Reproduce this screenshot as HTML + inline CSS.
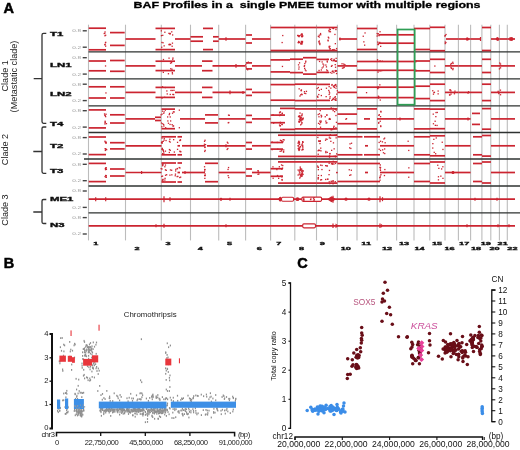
<!DOCTYPE html><html><head><meta charset="utf-8"><style>html,body{margin:0;padding:0;background:#fff;width:520px;height:450px;overflow:hidden}svg{display:block}</style></head><body><svg width="520" height="450" viewBox="0 0 520 450">
<rect width="520" height="450" fill="#fff"/>
<g stroke="#bcbcbc" stroke-width="1.1"><line x1="88.5" y1="24.7" x2="88.5" y2="240.4"/><line x1="125.5" y1="24.7" x2="125.5" y2="240.4"/><line x1="161.3" y1="24.7" x2="161.3" y2="240.4"/><line x1="190.5" y1="24.7" x2="190.5" y2="240.4"/><line x1="218.7" y1="24.7" x2="218.7" y2="240.4"/><line x1="245.6" y1="24.7" x2="245.6" y2="240.4"/><line x1="270.6" y1="24.7" x2="270.6" y2="240.4"/><line x1="294.8" y1="24.7" x2="294.8" y2="240.4"/><line x1="316.5" y1="24.7" x2="316.5" y2="240.4"/><line x1="337.4" y1="24.7" x2="337.4" y2="240.4"/><line x1="357.0" y1="24.7" x2="357.0" y2="240.4"/><line x1="377.2" y1="24.7" x2="377.2" y2="240.4"/><line x1="396.6" y1="24.7" x2="396.6" y2="240.4"/><line x1="414.0" y1="24.7" x2="414.0" y2="240.4"/><line x1="429.8" y1="24.7" x2="429.8" y2="240.4"/><line x1="445.0" y1="24.7" x2="445.0" y2="240.4"/><line x1="458.4" y1="24.7" x2="458.4" y2="240.4"/><line x1="470.6" y1="24.7" x2="470.6" y2="240.4"/><line x1="481.9" y1="24.7" x2="481.9" y2="240.4"/><line x1="490.8" y1="24.7" x2="490.8" y2="240.4"/><line x1="499.4" y1="24.7" x2="499.4" y2="240.4"/><line x1="507.3" y1="24.7" x2="507.3" y2="240.4"/></g>
<g stroke="#2e3231" stroke-width="1.35"><line x1="88.5" y1="51.9" x2="520" y2="51.9"/><line x1="88.5" y1="78.9" x2="520" y2="78.9"/><line x1="88.5" y1="105.9" x2="520" y2="105.9"/><line x1="88.5" y1="132.5" x2="520" y2="132.5"/><line x1="84" y1="159.0" x2="520" y2="159.0"/><line x1="88.5" y1="186.0" x2="520" y2="186.0"/><line x1="88.5" y1="212.9" x2="520" y2="212.9"/></g>
<g stroke="#cb2430" stroke-width="1.7" fill="none"><line x1="88.7" y1="28.2" x2="106.0" y2="28.2"/><line x1="88.7" y1="49.8" x2="106.0" y2="49.8"/><line x1="110.0" y1="32.6" x2="124.7" y2="32.6"/><line x1="110.0" y1="45.4" x2="124.7" y2="45.4"/><line x1="125.5" y1="39.0" x2="155.5" y2="39.0"/><line x1="155.5" y1="28.4" x2="175.0" y2="28.4"/><line x1="155.5" y1="49.6" x2="175.0" y2="49.6"/><line x1="175.0" y1="39.0" x2="190.5" y2="39.0"/><line x1="190.5" y1="36.8" x2="203.0" y2="36.8"/><line x1="190.5" y1="41.2" x2="203.0" y2="41.2"/><line x1="203.0" y1="28.4" x2="213.0" y2="28.4"/><line x1="203.0" y1="49.6" x2="213.0" y2="49.6"/><line x1="213.0" y1="36.8" x2="218.7" y2="36.8"/><line x1="213.0" y1="41.2" x2="218.7" y2="41.2"/><line x1="218.7" y1="39.0" x2="245.5" y2="39.0"/><line x1="226.0" y1="37.2" x2="226.0" y2="40.8" stroke-width="1.2"/><line x1="246.0" y1="35.0" x2="252.0" y2="35.0"/><line x1="246.0" y1="43.0" x2="252.0" y2="43.0"/><line x1="252.0" y1="39.0" x2="270.6" y2="39.0"/><line x1="270.6" y1="27.5" x2="295.0" y2="27.5"/><line x1="270.6" y1="50.5" x2="295.0" y2="50.5"/><line x1="295.0" y1="27.5" x2="316.5" y2="27.5"/><line x1="295.0" y1="50.5" x2="316.5" y2="50.5"/><line x1="316.5" y1="27.5" x2="337.4" y2="27.5"/><line x1="316.5" y1="50.5" x2="337.4" y2="50.5"/><line x1="339.0" y1="39.0" x2="357.0" y2="39.0"/><line x1="340.0" y1="37.5" x2="340.0" y2="40.5" stroke-width="1.2"/><line x1="357.0" y1="28.5" x2="377.0" y2="28.5"/><line x1="357.0" y1="49.5" x2="377.0" y2="49.5"/><line x1="379.0" y1="34.8" x2="396.6" y2="34.8"/><line x1="379.0" y1="43.2" x2="396.6" y2="43.2"/><line x1="396.6" y1="34.8" x2="414.0" y2="34.8"/><line x1="396.6" y1="43.2" x2="414.0" y2="43.2"/><line x1="414.0" y1="28.5" x2="430.0" y2="28.5"/><line x1="414.0" y1="49.5" x2="430.0" y2="49.5"/><line x1="430.0" y1="27.3" x2="445.0" y2="27.3"/><line x1="430.0" y1="50.7" x2="445.0" y2="50.7"/><line x1="446.0" y1="39.0" x2="458.4" y2="39.0"/><line x1="458.4" y1="39.0" x2="470.6" y2="39.0"/><line x1="467.0" y1="37.5" x2="467.0" y2="40.5" stroke-width="1.2"/><line x1="470.6" y1="39.0" x2="481.0" y2="39.0"/><line x1="480.5" y1="37.0" x2="480.5" y2="41.0" stroke-width="1.2"/><line x1="482.0" y1="27.5" x2="491.0" y2="27.5"/><line x1="482.0" y1="50.5" x2="491.0" y2="50.5"/><line x1="491.0" y1="39.0" x2="499.4" y2="39.0"/><line x1="499.4" y1="39.0" x2="507.3" y2="39.0"/><line x1="507.3" y1="39.0" x2="515.0" y2="39.0"/><line x1="510.0" y1="37.2" x2="510.0" y2="40.8" stroke-width="1.2"/><line x1="88.7" y1="61.0" x2="106.0" y2="61.0"/><line x1="88.7" y1="70.8" x2="106.0" y2="70.8"/><line x1="110.0" y1="60.5" x2="124.7" y2="60.5"/><line x1="110.0" y1="71.3" x2="124.7" y2="71.3"/><line x1="125.5" y1="65.9" x2="155.5" y2="65.9"/><line x1="155.5" y1="61.2" x2="175.0" y2="61.2"/><line x1="155.5" y1="70.6" x2="175.0" y2="70.6"/><line x1="175.0" y1="65.9" x2="202.0" y2="65.9"/><line x1="202.0" y1="61.1" x2="212.5" y2="61.1"/><line x1="202.0" y1="70.7" x2="212.5" y2="70.7"/><line x1="212.5" y1="65.9" x2="245.5" y2="65.9"/><line x1="236.0" y1="64.1" x2="236.0" y2="67.7" stroke-width="1.2"/><line x1="246.0" y1="62.9" x2="252.0" y2="62.9"/><line x1="246.0" y1="68.9" x2="252.0" y2="68.9"/><line x1="252.0" y1="65.9" x2="270.6" y2="65.9"/><line x1="270.6" y1="59.9" x2="290.0" y2="59.9"/><line x1="270.6" y1="71.9" x2="290.0" y2="71.9"/><line x1="290.0" y1="59.2" x2="303.0" y2="59.2"/><line x1="290.0" y1="72.6" x2="303.0" y2="72.6"/><line x1="303.0" y1="57.7" x2="316.5" y2="57.7"/><line x1="303.0" y1="74.1" x2="316.5" y2="74.1"/><line x1="316.5" y1="59.4" x2="329.0" y2="59.4"/><line x1="316.5" y1="72.4" x2="329.0" y2="72.4"/><line x1="337.4" y1="65.9" x2="357.0" y2="65.9"/><line x1="357.0" y1="61.5" x2="377.0" y2="61.5"/><line x1="357.0" y1="70.3" x2="377.0" y2="70.3"/><line x1="377.0" y1="61.5" x2="396.6" y2="61.5"/><line x1="377.0" y1="70.3" x2="396.6" y2="70.3"/><line x1="396.6" y1="61.5" x2="414.0" y2="61.5"/><line x1="396.6" y1="70.3" x2="414.0" y2="70.3"/><line x1="414.0" y1="61.0" x2="430.0" y2="61.0"/><line x1="414.0" y1="70.8" x2="430.0" y2="70.8"/><line x1="430.0" y1="59.3" x2="445.0" y2="59.3"/><line x1="430.0" y1="72.5" x2="445.0" y2="72.5"/><line x1="445.0" y1="65.9" x2="458.4" y2="65.9"/><line x1="458.4" y1="65.9" x2="482.0" y2="65.9"/><line x1="482.0" y1="59.3" x2="491.0" y2="59.3"/><line x1="482.0" y1="72.5" x2="491.0" y2="72.5"/><line x1="491.0" y1="65.9" x2="515.0" y2="65.9"/><line x1="88.7" y1="86.8" x2="106.0" y2="86.8"/><line x1="88.7" y1="98.0" x2="106.0" y2="98.0"/><line x1="110.0" y1="86.8" x2="124.7" y2="86.8"/><line x1="110.0" y1="98.0" x2="124.7" y2="98.0"/><line x1="125.5" y1="92.4" x2="155.5" y2="92.4"/><line x1="155.5" y1="87.4" x2="175.0" y2="87.4"/><line x1="155.5" y1="97.4" x2="175.0" y2="97.4"/><line x1="175.0" y1="92.4" x2="202.0" y2="92.4"/><line x1="202.0" y1="87.4" x2="212.5" y2="87.4"/><line x1="202.0" y1="97.4" x2="212.5" y2="97.4"/><line x1="212.5" y1="92.4" x2="245.5" y2="92.4"/><line x1="230.0" y1="90.6" x2="230.0" y2="94.2" stroke-width="1.2"/><line x1="243.0" y1="90.9" x2="243.0" y2="93.9" stroke-width="1.2"/><line x1="246.0" y1="89.4" x2="252.0" y2="89.4"/><line x1="246.0" y1="95.4" x2="252.0" y2="95.4"/><line x1="252.0" y1="92.4" x2="270.6" y2="92.4"/><line x1="270.6" y1="84.6" x2="295.0" y2="84.6"/><line x1="270.6" y1="100.2" x2="295.0" y2="100.2"/><line x1="295.0" y1="84.2" x2="316.5" y2="84.2"/><line x1="295.0" y1="100.6" x2="316.5" y2="100.6"/><line x1="316.5" y1="84.4" x2="330.0" y2="84.4"/><line x1="316.5" y1="100.4" x2="330.0" y2="100.4"/><line x1="337.4" y1="92.4" x2="357.0" y2="92.4"/><line x1="357.0" y1="87.2" x2="377.0" y2="87.2"/><line x1="357.0" y1="97.6" x2="377.0" y2="97.6"/><line x1="377.0" y1="87.2" x2="396.6" y2="87.2"/><line x1="377.0" y1="97.6" x2="396.6" y2="97.6"/><line x1="396.6" y1="87.2" x2="414.0" y2="87.2"/><line x1="396.6" y1="97.6" x2="414.0" y2="97.6"/><line x1="414.0" y1="86.2" x2="430.0" y2="86.2"/><line x1="414.0" y1="98.6" x2="430.0" y2="98.6"/><line x1="430.0" y1="84.2" x2="445.0" y2="84.2"/><line x1="430.0" y1="100.6" x2="445.0" y2="100.6"/><line x1="445.0" y1="92.4" x2="458.4" y2="92.4"/><line x1="458.4" y1="92.4" x2="482.0" y2="92.4"/><line x1="482.0" y1="84.2" x2="491.0" y2="84.2"/><line x1="482.0" y1="100.6" x2="491.0" y2="100.6"/><line x1="491.0" y1="92.4" x2="515.0" y2="92.4"/><line x1="88.7" y1="109.9" x2="106.0" y2="109.9"/><line x1="88.7" y1="127.9" x2="106.0" y2="127.9"/><line x1="110.0" y1="114.8" x2="124.7" y2="114.8"/><line x1="110.0" y1="123.0" x2="124.7" y2="123.0"/><line x1="125.5" y1="118.9" x2="155.0" y2="118.9"/><line x1="155.0" y1="117.3" x2="161.0" y2="117.3"/><line x1="155.0" y1="120.5" x2="161.0" y2="120.5"/><line x1="161.5" y1="109.1" x2="175.0" y2="109.1"/><line x1="161.5" y1="128.7" x2="175.0" y2="128.7"/><line x1="180.0" y1="118.9" x2="205.0" y2="118.9"/><line x1="205.0" y1="114.9" x2="218.0" y2="114.9"/><line x1="205.0" y1="122.9" x2="218.0" y2="122.9"/><line x1="218.7" y1="118.9" x2="245.5" y2="118.9"/><line x1="246.0" y1="115.4" x2="252.0" y2="115.4"/><line x1="246.0" y1="122.4" x2="252.0" y2="122.4"/><line x1="252.0" y1="118.9" x2="270.6" y2="118.9"/><line x1="270.6" y1="115.1" x2="285.0" y2="115.1"/><line x1="270.6" y1="122.7" x2="285.0" y2="122.7"/><line x1="280.0" y1="108.4" x2="295.0" y2="108.4"/><line x1="280.0" y1="129.4" x2="295.0" y2="129.4"/><line x1="295.0" y1="108.9" x2="316.5" y2="108.9"/><line x1="295.0" y1="128.9" x2="316.5" y2="128.9"/><line x1="316.5" y1="108.9" x2="337.4" y2="108.9"/><line x1="316.5" y1="128.9" x2="337.4" y2="128.9"/><line x1="337.4" y1="114.1" x2="357.0" y2="114.1"/><line x1="337.4" y1="123.7" x2="357.0" y2="123.7"/><line x1="357.0" y1="108.9" x2="377.0" y2="108.9"/><line x1="357.0" y1="128.9" x2="377.0" y2="128.9"/><line x1="364.0" y1="118.9" x2="370.0" y2="118.9"/><line x1="377.0" y1="118.9" x2="396.6" y2="118.9"/><line x1="396.6" y1="118.9" x2="414.0" y2="118.9"/><line x1="400.0" y1="117.4" x2="400.0" y2="120.4" stroke-width="1.2"/><line x1="414.0" y1="108.9" x2="430.0" y2="108.9"/><line x1="414.0" y1="128.9" x2="430.0" y2="128.9"/><line x1="430.0" y1="109.1" x2="445.0" y2="109.1"/><line x1="430.0" y1="128.7" x2="445.0" y2="128.7"/><line x1="445.0" y1="118.9" x2="470.6" y2="118.9"/><line x1="468.0" y1="117.4" x2="468.0" y2="120.4" stroke-width="1.2"/><line x1="472.0" y1="113.4" x2="480.0" y2="113.4"/><line x1="472.0" y1="124.4" x2="480.0" y2="124.4"/><line x1="482.0" y1="108.6" x2="491.0" y2="108.6"/><line x1="482.0" y1="129.2" x2="491.0" y2="129.2"/><line x1="491.0" y1="118.9" x2="515.0" y2="118.9"/><line x1="88.7" y1="137.0" x2="106.0" y2="137.0"/><line x1="88.7" y1="154.6" x2="106.0" y2="154.6"/><line x1="110.0" y1="142.7" x2="124.7" y2="142.7"/><line x1="110.0" y1="148.9" x2="124.7" y2="148.9"/><line x1="125.5" y1="145.8" x2="161.5" y2="145.8"/><line x1="161.5" y1="136.8" x2="176.0" y2="136.8"/><line x1="161.5" y1="154.8" x2="176.0" y2="154.8"/><line x1="177.5" y1="136.8" x2="182.0" y2="136.8"/><line x1="177.5" y1="154.8" x2="182.0" y2="154.8"/><line x1="177.5" y1="145.8" x2="180.0" y2="145.8"/><line x1="182.0" y1="145.8" x2="205.0" y2="145.8"/><line x1="207.0" y1="145.8" x2="245.5" y2="145.8"/><line x1="226.0" y1="144.3" x2="226.0" y2="147.3" stroke-width="1.2"/><line x1="246.0" y1="142.5" x2="252.0" y2="142.5"/><line x1="246.0" y1="149.1" x2="252.0" y2="149.1"/><line x1="252.0" y1="145.8" x2="270.6" y2="145.8"/><line x1="270.6" y1="142.5" x2="283.0" y2="142.5"/><line x1="270.6" y1="149.1" x2="283.0" y2="149.1"/><line x1="278.0" y1="135.2" x2="295.0" y2="135.2"/><line x1="278.0" y1="156.4" x2="295.0" y2="156.4"/><line x1="295.0" y1="135.2" x2="316.5" y2="135.2"/><line x1="295.0" y1="156.4" x2="316.5" y2="156.4"/><line x1="316.5" y1="135.2" x2="337.4" y2="135.2"/><line x1="316.5" y1="156.4" x2="337.4" y2="156.4"/><line x1="337.4" y1="136.8" x2="357.0" y2="136.8"/><line x1="337.4" y1="154.8" x2="357.0" y2="154.8"/><line x1="357.0" y1="136.8" x2="362.5" y2="136.8"/><line x1="357.0" y1="154.8" x2="362.5" y2="154.8"/><line x1="364.0" y1="136.8" x2="377.0" y2="136.8"/><line x1="364.0" y1="154.8" x2="377.0" y2="154.8"/><line x1="365.0" y1="145.8" x2="368.0" y2="145.8"/><line x1="377.0" y1="136.8" x2="380.0" y2="136.8"/><line x1="377.0" y1="154.8" x2="380.0" y2="154.8"/><line x1="380.0" y1="145.8" x2="396.6" y2="145.8"/><line x1="396.6" y1="145.8" x2="414.0" y2="145.8"/><line x1="414.0" y1="136.8" x2="430.0" y2="136.8"/><line x1="414.0" y1="154.8" x2="430.0" y2="154.8"/><line x1="430.0" y1="135.8" x2="445.0" y2="135.8"/><line x1="430.0" y1="155.8" x2="445.0" y2="155.8"/><line x1="445.0" y1="145.8" x2="470.6" y2="145.8"/><line x1="473.0" y1="136.8" x2="482.0" y2="136.8"/><line x1="473.0" y1="154.8" x2="482.0" y2="154.8"/><line x1="482.0" y1="135.5" x2="491.0" y2="135.5"/><line x1="482.0" y1="156.1" x2="491.0" y2="156.1"/><line x1="491.0" y1="145.8" x2="515.0" y2="145.8"/><line x1="88.7" y1="163.4" x2="106.0" y2="163.4"/><line x1="88.7" y1="181.6" x2="106.0" y2="181.6"/><line x1="110.0" y1="169.0" x2="124.7" y2="169.0"/><line x1="110.0" y1="176.0" x2="124.7" y2="176.0"/><line x1="125.5" y1="172.5" x2="161.5" y2="172.5"/><line x1="141.6" y1="171.0" x2="141.6" y2="174.0" stroke-width="1.2"/><line x1="161.5" y1="163.0" x2="176.0" y2="163.0"/><line x1="161.5" y1="182.0" x2="176.0" y2="182.0"/><line x1="177.5" y1="163.0" x2="182.0" y2="163.0"/><line x1="177.5" y1="182.0" x2="182.0" y2="182.0"/><line x1="177.5" y1="172.5" x2="180.0" y2="172.5"/><line x1="182.0" y1="172.5" x2="205.0" y2="172.5"/><line x1="185.0" y1="171.0" x2="185.0" y2="174.0" stroke-width="1.2"/><line x1="205.0" y1="163.3" x2="218.0" y2="163.3"/><line x1="205.0" y1="181.7" x2="218.0" y2="181.7"/><line x1="218.7" y1="172.5" x2="245.5" y2="172.5"/><line x1="246.0" y1="169.0" x2="252.0" y2="169.0"/><line x1="246.0" y1="176.0" x2="252.0" y2="176.0"/><line x1="252.0" y1="172.5" x2="270.6" y2="172.5"/><line x1="270.6" y1="168.7" x2="283.0" y2="168.7"/><line x1="270.6" y1="176.3" x2="283.0" y2="176.3"/><line x1="278.0" y1="161.9" x2="295.0" y2="161.9"/><line x1="278.0" y1="183.1" x2="295.0" y2="183.1"/><line x1="295.0" y1="161.9" x2="316.5" y2="161.9"/><line x1="295.0" y1="183.1" x2="316.5" y2="183.1"/><line x1="316.5" y1="161.9" x2="337.4" y2="161.9"/><line x1="316.5" y1="183.1" x2="337.4" y2="183.1"/><line x1="337.4" y1="163.5" x2="357.0" y2="163.5"/><line x1="337.4" y1="181.5" x2="357.0" y2="181.5"/><line x1="357.0" y1="163.5" x2="377.0" y2="163.5"/><line x1="357.0" y1="181.5" x2="377.0" y2="181.5"/><line x1="365.0" y1="172.5" x2="368.0" y2="172.5"/><line x1="377.0" y1="163.5" x2="380.0" y2="163.5"/><line x1="377.0" y1="181.5" x2="380.0" y2="181.5"/><line x1="380.0" y1="172.5" x2="396.6" y2="172.5"/><line x1="396.6" y1="172.5" x2="414.0" y2="172.5"/><line x1="414.0" y1="163.5" x2="430.0" y2="163.5"/><line x1="414.0" y1="181.5" x2="430.0" y2="181.5"/><line x1="430.0" y1="162.0" x2="445.0" y2="162.0"/><line x1="430.0" y1="183.0" x2="445.0" y2="183.0"/><line x1="445.0" y1="172.5" x2="470.6" y2="172.5"/><line x1="453.0" y1="171.0" x2="453.0" y2="174.0" stroke-width="1.2"/><line x1="473.0" y1="163.5" x2="482.0" y2="163.5"/><line x1="473.0" y1="181.5" x2="482.0" y2="181.5"/><line x1="482.0" y1="162.0" x2="491.0" y2="162.0"/><line x1="482.0" y1="183.0" x2="491.0" y2="183.0"/><line x1="491.0" y1="172.5" x2="515.0" y2="172.5"/><line x1="88.7" y1="199.2" x2="515.0" y2="199.2"/><line x1="95.7" y1="197.2" x2="95.7" y2="201.2" stroke-width="1.2"/><line x1="105.7" y1="197.2" x2="105.7" y2="201.2" stroke-width="1.2"/><line x1="164.0" y1="196.2" x2="164.0" y2="202.2" stroke-width="1.2"/><line x1="170.0" y1="197.2" x2="170.0" y2="201.2" stroke-width="1.2"/><line x1="221.0" y1="197.7" x2="221.0" y2="200.7" stroke-width="1.2"/><line x1="230.0" y1="197.7" x2="230.0" y2="200.7" stroke-width="1.2"/><line x1="475.0" y1="197.7" x2="475.0" y2="200.7" stroke-width="1.2"/><line x1="497.0" y1="197.7" x2="497.0" y2="200.7" stroke-width="1.2"/><line x1="333.0" y1="195.7" x2="333.0" y2="202.7" stroke-width="1.2"/><line x1="380.0" y1="196.2" x2="380.0" y2="202.2" stroke-width="1.2"/><line x1="382.5" y1="197.2" x2="382.5" y2="201.2" stroke-width="1.2"/><line x1="279.6" y1="197.2" x2="279.6" y2="201.2" stroke-width="1.2"/><line x1="88.7" y1="225.8" x2="515.0" y2="225.8"/><line x1="156.0" y1="224.3" x2="156.0" y2="227.3" stroke-width="1.2"/><line x1="164.0" y1="223.8" x2="164.0" y2="227.8" stroke-width="1.2"/><line x1="226.0" y1="224.3" x2="226.0" y2="227.3" stroke-width="1.2"/><line x1="333.0" y1="223.6" x2="333.0" y2="228.0" stroke-width="1.2"/><line x1="380.0" y1="223.6" x2="380.0" y2="228.0" stroke-width="1.2"/><line x1="381.5" y1="224.3" x2="381.5" y2="227.3" stroke-width="1.2"/><line x1="467.0" y1="224.3" x2="467.0" y2="227.3" stroke-width="1.2"/><line x1="498.0" y1="224.3" x2="498.0" y2="227.3" stroke-width="1.2"/><line x1="509.0" y1="224.3" x2="509.0" y2="227.3" stroke-width="1.2"/></g>
<g fill="#fff" stroke="#cb2430" stroke-width="1.15"><rect x="281.5" y="197.2" width="12.1" height="4.0" rx="1.2"/><rect x="301.9" y="197.1" width="19.7" height="4.2" rx="1.2"/><rect x="302.7" y="223.8" width="12.8" height="4.0" rx="1.2"/></g>
<g fill="#cb2430"><path d="M281,196.6 L277.3,199.2 L281,201.8 Z"/><path d="M327,199.2 L331.5,196.2 L336,199.2 L331.5,202.2 Z"/><path d="M335.5,223.4 L338.8,225.8 L335.5,228.2 Z"/></g>
<g fill="#cb2430"><circle cx="346" cy="199.2" r="1.6"/><circle cx="369" cy="199.2" r="1.6"/><circle cx="297.5" cy="199.2" r="1.9"/><circle cx="467.5" cy="39.0" r="1.5"/><circle cx="497.5" cy="39.0" r="1.7"/><circle cx="511.5" cy="39.0" r="1.9"/><circle cx="453" cy="172.5" r="1.5"/><circle cx="221" cy="199.2" r="1.3"/><rect x="104.8" y="42.2" width="1.3" height="1.3"/><rect x="105.0" y="34.6" width="1.3" height="1.3"/><rect x="104.3" y="44.1" width="1.3" height="1.3"/><rect x="104.1" y="32.7" width="1.3" height="1.3"/><rect x="104.3" y="43.9" width="1.3" height="1.3"/><rect x="103.6" y="32.9" width="1.3" height="1.3"/><rect x="105.0" y="41.7" width="1.3" height="1.3"/><rect x="104.3" y="35.1" width="1.3" height="1.3"/><rect x="105.0" y="45.5" width="1.3" height="1.3"/><rect x="104.4" y="31.3" width="1.3" height="1.3"/><rect x="163.5" y="45.2" width="1.3" height="1.3"/><rect x="164.2" y="31.6" width="1.3" height="1.3"/><rect x="168.5" y="43.8" width="1.3" height="1.3"/><rect x="169.2" y="33.0" width="1.3" height="1.3"/><rect x="161.1" y="46.6" width="1.3" height="1.3"/><rect x="160.7" y="30.2" width="1.3" height="1.3"/><rect x="162.4" y="42.1" width="1.3" height="1.3"/><rect x="162.1" y="34.7" width="1.3" height="1.3"/><rect x="171.8" y="42.5" width="1.3" height="1.3"/><rect x="172.0" y="34.3" width="1.3" height="1.3"/><rect x="169.3" y="43.6" width="1.3" height="1.3"/><rect x="169.4" y="33.2" width="1.3" height="1.3"/><rect x="161.3" y="41.8" width="1.3" height="1.3"/><rect x="160.8" y="35.0" width="1.3" height="1.3"/><rect x="169.9" y="44.0" width="1.3" height="1.3"/><rect x="169.6" y="32.8" width="1.3" height="1.3"/><rect x="168.6" y="44.1" width="1.3" height="1.3"/><rect x="168.3" y="32.7" width="1.3" height="1.3"/><rect x="171.5" y="45.6" width="1.3" height="1.3"/><rect x="171.1" y="31.2" width="1.3" height="1.3"/><rect x="281.5" y="41.9" width="1.3" height="1.3"/><rect x="282.1" y="34.9" width="1.3" height="1.3"/><rect x="301.0" y="41.4" width="1.3" height="1.3"/><rect x="301.8" y="35.4" width="1.3" height="1.3"/><rect x="298.0" y="41.8" width="1.3" height="1.3"/><rect x="298.4" y="35.0" width="1.3" height="1.3"/><rect x="298.2" y="42.0" width="1.3" height="1.3"/><rect x="297.4" y="34.8" width="1.3" height="1.3"/><rect x="300.7" y="42.7" width="1.3" height="1.3"/><rect x="300.9" y="34.1" width="1.3" height="1.3"/><rect x="301.8" y="41.5" width="1.3" height="1.3"/><rect x="302.1" y="35.3" width="1.3" height="1.3"/><rect x="300.4" y="42.2" width="1.3" height="1.3"/><rect x="300.3" y="34.6" width="1.3" height="1.3"/><rect x="301.6" y="43.2" width="1.3" height="1.3"/><rect x="301.6" y="33.6" width="1.3" height="1.3"/><rect x="300.7" y="40.8" width="1.3" height="1.3"/><rect x="301.0" y="36.0" width="1.3" height="1.3"/><rect x="300.6" y="43.4" width="1.3" height="1.3"/><rect x="301.2" y="33.4" width="1.3" height="1.3"/><rect x="298.8" y="41.7" width="1.3" height="1.3"/><rect x="299.1" y="35.1" width="1.3" height="1.3"/><rect x="297.5" y="41.9" width="1.3" height="1.3"/><rect x="297.0" y="34.9" width="1.3" height="1.3"/><rect x="298.0" y="40.8" width="1.3" height="1.3"/><rect x="298.4" y="36.0" width="1.3" height="1.3"/><rect x="298.0" y="41.3" width="1.3" height="1.3"/><rect x="297.9" y="35.5" width="1.3" height="1.3"/><rect x="301.8" y="40.8" width="1.3" height="1.3"/><rect x="301.7" y="36.0" width="1.3" height="1.3"/><rect x="300.1" y="43.1" width="1.3" height="1.3"/><rect x="300.7" y="33.7" width="1.3" height="1.3"/><rect x="301.7" y="41.4" width="1.3" height="1.3"/><rect x="301.6" y="35.4" width="1.3" height="1.3"/><rect x="319.2" y="43.9" width="1.3" height="1.3"/><rect x="319.9" y="32.9" width="1.3" height="1.3"/><rect x="318.2" y="41.1" width="1.3" height="1.3"/><rect x="317.7" y="35.7" width="1.3" height="1.3"/><rect x="318.6" y="42.3" width="1.3" height="1.3"/><rect x="318.7" y="34.5" width="1.3" height="1.3"/><rect x="318.7" y="40.4" width="1.3" height="1.3"/><rect x="318.6" y="36.4" width="1.3" height="1.3"/><rect x="319.2" y="42.7" width="1.3" height="1.3"/><rect x="320.0" y="34.1" width="1.3" height="1.3"/><rect x="327.5" y="40.2" width="1.3" height="1.3"/><rect x="327.7" y="36.6" width="1.3" height="1.3"/><rect x="327.4" y="39.5" width="1.3" height="1.3"/><rect x="328.1" y="37.3" width="1.3" height="1.3"/><rect x="364.0" y="44.5" width="1.3" height="1.3"/><rect x="364.4" y="32.3" width="1.3" height="1.3"/><rect x="363.2" y="41.2" width="1.3" height="1.3"/><rect x="362.6" y="35.6" width="1.3" height="1.3"/><rect x="379.1" y="41.8" width="1.3" height="1.3"/><rect x="378.4" y="35.0" width="1.3" height="1.3"/><rect x="377.6" y="42.5" width="1.3" height="1.3"/><rect x="377.4" y="34.3" width="1.3" height="1.3"/><rect x="377.1" y="41.4" width="1.3" height="1.3"/><rect x="376.5" y="35.4" width="1.3" height="1.3"/><rect x="377.3" y="43.9" width="1.3" height="1.3"/><rect x="376.5" y="32.9" width="1.3" height="1.3"/><rect x="380.0" y="45.7" width="1.3" height="1.3"/><rect x="379.4" y="31.1" width="1.3" height="1.3"/><rect x="377.8" y="43.8" width="1.3" height="1.3"/><rect x="377.6" y="33.0" width="1.3" height="1.3"/><rect x="444.6" y="42.9" width="1.3" height="1.3"/><rect x="445.4" y="33.9" width="1.3" height="1.3"/><rect x="445.3" y="41.9" width="1.3" height="1.3"/><rect x="444.7" y="34.9" width="1.3" height="1.3"/><rect x="444.6" y="41.4" width="1.3" height="1.3"/><rect x="444.2" y="35.4" width="1.3" height="1.3"/><rect x="497.1" y="38.7" width="1.3" height="1.3"/><rect x="496.3" y="38.1" width="1.3" height="1.3"/><rect x="497.3" y="39.5" width="1.3" height="1.3"/><rect x="496.7" y="37.3" width="1.3" height="1.3"/><rect x="104.9" y="65.3" width="1.3" height="1.3"/><rect x="167.8" y="73.1" width="1.3" height="1.3"/><rect x="168.4" y="57.5" width="1.3" height="1.3"/><rect x="170.1" y="68.1" width="1.3" height="1.3"/><rect x="169.9" y="62.5" width="1.3" height="1.3"/><rect x="162.7" y="71.7" width="1.3" height="1.3"/><rect x="162.8" y="58.9" width="1.3" height="1.3"/><rect x="171.3" y="68.6" width="1.3" height="1.3"/><rect x="170.9" y="62.0" width="1.3" height="1.3"/><rect x="171.8" y="73.2" width="1.3" height="1.3"/><rect x="172.3" y="57.4" width="1.3" height="1.3"/><rect x="171.7" y="72.0" width="1.3" height="1.3"/><rect x="172.1" y="58.6" width="1.3" height="1.3"/><rect x="246.8" y="68.4" width="1.3" height="1.3"/><rect x="246.5" y="62.2" width="1.3" height="1.3"/><rect x="245.6" y="66.4" width="1.3" height="1.3"/><rect x="245.2" y="64.2" width="1.3" height="1.3"/><rect x="247.0" y="69.1" width="1.3" height="1.3"/><rect x="247.7" y="61.5" width="1.3" height="1.3"/><rect x="281.8" y="65.8" width="1.3" height="1.3"/><rect x="305.3" y="70.1" width="1.3" height="1.3"/><rect x="305.1" y="60.5" width="1.3" height="1.3"/><rect x="298.4" y="66.4" width="1.3" height="1.3"/><rect x="297.9" y="64.2" width="1.3" height="1.3"/><rect x="298.2" y="68.4" width="1.3" height="1.3"/><rect x="298.9" y="62.2" width="1.3" height="1.3"/><rect x="304.0" y="67.7" width="1.3" height="1.3"/><rect x="304.2" y="62.9" width="1.3" height="1.3"/><rect x="303.6" y="65.7" width="1.3" height="1.3"/><rect x="303.9" y="64.9" width="1.3" height="1.3"/><rect x="304.6" y="69.2" width="1.3" height="1.3"/><rect x="305.0" y="61.4" width="1.3" height="1.3"/><rect x="322.6" y="66.2" width="1.3" height="1.3"/><rect x="323.1" y="64.4" width="1.3" height="1.3"/><rect x="320.7" y="69.3" width="1.3" height="1.3"/><rect x="321.5" y="61.3" width="1.3" height="1.3"/><rect x="321.5" y="67.3" width="1.3" height="1.3"/><rect x="322.3" y="63.3" width="1.3" height="1.3"/><rect x="325.8" y="66.2" width="1.3" height="1.3"/><rect x="325.2" y="64.4" width="1.3" height="1.3"/><rect x="318.4" y="69.8" width="1.3" height="1.3"/><rect x="318.9" y="60.8" width="1.3" height="1.3"/><rect x="326.2" y="71.8" width="1.3" height="1.3"/><rect x="326.9" y="58.8" width="1.3" height="1.3"/><rect x="332.3" y="70.4" width="1.3" height="1.3"/><rect x="332.4" y="60.2" width="1.3" height="1.3"/><rect x="326.0" y="69.3" width="1.3" height="1.3"/><rect x="326.7" y="61.3" width="1.3" height="1.3"/><rect x="332.2" y="70.9" width="1.3" height="1.3"/><rect x="332.9" y="59.7" width="1.3" height="1.3"/><rect x="329.6" y="71.9" width="1.3" height="1.3"/><rect x="330.1" y="58.7" width="1.3" height="1.3"/><rect x="326.9" y="70.1" width="1.3" height="1.3"/><rect x="326.6" y="60.5" width="1.3" height="1.3"/><rect x="341.8" y="67.5" width="1.3" height="1.3"/><rect x="341.4" y="63.1" width="1.3" height="1.3"/><rect x="343.6" y="66.6" width="1.3" height="1.3"/><rect x="344.2" y="64.0" width="1.3" height="1.3"/><rect x="342.9" y="67.2" width="1.3" height="1.3"/><rect x="343.1" y="63.4" width="1.3" height="1.3"/><rect x="381.0" y="70.0" width="1.3" height="1.3"/><rect x="381.7" y="60.6" width="1.3" height="1.3"/><rect x="379.4" y="70.4" width="1.3" height="1.3"/><rect x="379.4" y="60.2" width="1.3" height="1.3"/><rect x="377.5" y="70.1" width="1.3" height="1.3"/><rect x="377.0" y="60.5" width="1.3" height="1.3"/><rect x="377.4" y="71.5" width="1.3" height="1.3"/><rect x="376.9" y="59.1" width="1.3" height="1.3"/><rect x="415.3" y="70.2" width="1.3" height="1.3"/><rect x="415.4" y="60.4" width="1.3" height="1.3"/><rect x="415.1" y="69.4" width="1.3" height="1.3"/><rect x="415.1" y="61.2" width="1.3" height="1.3"/><rect x="434.2" y="65.4" width="1.3" height="1.3"/><rect x="450.4" y="67.0" width="1.3" height="1.3"/><rect x="450.1" y="63.6" width="1.3" height="1.3"/><rect x="452.4" y="67.8" width="1.3" height="1.3"/><rect x="452.4" y="62.8" width="1.3" height="1.3"/><rect x="452.2" y="69.0" width="1.3" height="1.3"/><rect x="452.1" y="61.6" width="1.3" height="1.3"/><rect x="450.9" y="67.8" width="1.3" height="1.3"/><rect x="450.9" y="62.8" width="1.3" height="1.3"/><rect x="499.9" y="67.2" width="1.3" height="1.3"/><rect x="499.9" y="63.4" width="1.3" height="1.3"/><rect x="498.8" y="68.2" width="1.3" height="1.3"/><rect x="499.1" y="62.4" width="1.3" height="1.3"/><rect x="105.3" y="92.3" width="1.3" height="1.3"/><rect x="164.0" y="96.7" width="1.3" height="1.3"/><rect x="164.7" y="86.9" width="1.3" height="1.3"/><rect x="172.2" y="93.8" width="1.3" height="1.3"/><rect x="171.6" y="89.8" width="1.3" height="1.3"/><rect x="166.6" y="93.3" width="1.3" height="1.3"/><rect x="166.2" y="90.3" width="1.3" height="1.3"/><rect x="161.4" y="97.5" width="1.3" height="1.3"/><rect x="161.9" y="86.1" width="1.3" height="1.3"/><rect x="173.0" y="93.9" width="1.3" height="1.3"/><rect x="173.3" y="89.7" width="1.3" height="1.3"/><rect x="169.6" y="93.8" width="1.3" height="1.3"/><rect x="170.3" y="89.8" width="1.3" height="1.3"/><rect x="305.1" y="92.9" width="1.3" height="1.3"/><rect x="305.8" y="90.7" width="1.3" height="1.3"/><rect x="300.0" y="94.2" width="1.3" height="1.3"/><rect x="300.8" y="89.4" width="1.3" height="1.3"/><rect x="303.9" y="92.6" width="1.3" height="1.3"/><rect x="303.8" y="91.0" width="1.3" height="1.3"/><rect x="301.0" y="93.5" width="1.3" height="1.3"/><rect x="300.6" y="90.1" width="1.3" height="1.3"/><rect x="299.3" y="95.4" width="1.3" height="1.3"/><rect x="298.5" y="88.2" width="1.3" height="1.3"/><rect x="301.4" y="94.0" width="1.3" height="1.3"/><rect x="300.6" y="89.6" width="1.3" height="1.3"/><rect x="320.7" y="94.9" width="1.3" height="1.3"/><rect x="320.7" y="88.7" width="1.3" height="1.3"/><rect x="317.2" y="96.7" width="1.3" height="1.3"/><rect x="317.7" y="86.9" width="1.3" height="1.3"/><rect x="329.0" y="92.3" width="1.3" height="1.3"/><rect x="328.7" y="91.3" width="1.3" height="1.3"/><rect x="316.9" y="95.7" width="1.3" height="1.3"/><rect x="316.5" y="87.9" width="1.3" height="1.3"/><rect x="318.1" y="93.9" width="1.3" height="1.3"/><rect x="318.7" y="89.7" width="1.3" height="1.3"/><rect x="334.2" y="96.8" width="1.3" height="1.3"/><rect x="333.7" y="86.8" width="1.3" height="1.3"/><rect x="335.4" y="98.1" width="1.3" height="1.3"/><rect x="335.8" y="85.5" width="1.3" height="1.3"/><rect x="325.5" y="96.0" width="1.3" height="1.3"/><rect x="325.8" y="87.6" width="1.3" height="1.3"/><rect x="329.5" y="96.1" width="1.3" height="1.3"/><rect x="330.2" y="87.5" width="1.3" height="1.3"/><rect x="332.0" y="99.0" width="1.3" height="1.3"/><rect x="331.3" y="84.6" width="1.3" height="1.3"/><rect x="334.7" y="96.1" width="1.3" height="1.3"/><rect x="335.3" y="87.5" width="1.3" height="1.3"/><rect x="365.9" y="92.0" width="1.3" height="1.3"/><rect x="379.6" y="99.4" width="1.3" height="1.3"/><rect x="379.2" y="84.2" width="1.3" height="1.3"/><rect x="377.9" y="97.4" width="1.3" height="1.3"/><rect x="377.5" y="86.2" width="1.3" height="1.3"/><rect x="377.8" y="95.6" width="1.3" height="1.3"/><rect x="377.1" y="88.0" width="1.3" height="1.3"/><rect x="378.2" y="96.4" width="1.3" height="1.3"/><rect x="377.9" y="87.2" width="1.3" height="1.3"/><rect x="437.5" y="93.2" width="1.3" height="1.3"/><rect x="437.5" y="90.4" width="1.3" height="1.3"/><rect x="432.8" y="93.5" width="1.3" height="1.3"/><rect x="432.1" y="90.1" width="1.3" height="1.3"/><rect x="433.4" y="91.9" width="1.3" height="1.3"/><rect x="433.8" y="91.7" width="1.3" height="1.3"/><rect x="450.4" y="93.4" width="1.3" height="1.3"/><rect x="450.3" y="90.2" width="1.3" height="1.3"/><rect x="453.8" y="93.1" width="1.3" height="1.3"/><rect x="454.3" y="90.5" width="1.3" height="1.3"/><rect x="449.3" y="94.3" width="1.3" height="1.3"/><rect x="449.8" y="89.3" width="1.3" height="1.3"/><rect x="448.9" y="94.3" width="1.3" height="1.3"/><rect x="449.2" y="89.3" width="1.3" height="1.3"/><rect x="467.4" y="92.5" width="1.3" height="1.3"/><rect x="467.9" y="91.1" width="1.3" height="1.3"/><rect x="499.9" y="94.1" width="1.3" height="1.3"/><rect x="499.8" y="89.5" width="1.3" height="1.3"/><rect x="498.1" y="92.9" width="1.3" height="1.3"/><rect x="497.5" y="90.7" width="1.3" height="1.3"/><rect x="104.3" y="123.3" width="1.3" height="1.3"/><rect x="103.9" y="113.3" width="1.3" height="1.3"/><rect x="104.5" y="120.6" width="1.3" height="1.3"/><rect x="105.0" y="116.0" width="1.3" height="1.3"/><rect x="105.8" y="123.0" width="1.3" height="1.3"/><rect x="105.4" y="113.6" width="1.3" height="1.3"/><rect x="104.6" y="121.5" width="1.3" height="1.3"/><rect x="104.6" y="115.1" width="1.3" height="1.3"/><rect x="104.5" y="122.1" width="1.3" height="1.3"/><rect x="104.1" y="114.5" width="1.3" height="1.3"/><rect x="178.7" y="127.1" width="1.3" height="1.3"/><rect x="178.7" y="109.5" width="1.3" height="1.3"/><rect x="165.0" y="127.1" width="1.3" height="1.3"/><rect x="164.7" y="109.5" width="1.3" height="1.3"/><rect x="167.2" y="120.3" width="1.3" height="1.3"/><rect x="167.0" y="116.3" width="1.3" height="1.3"/><rect x="169.4" y="123.8" width="1.3" height="1.3"/><rect x="168.9" y="112.8" width="1.3" height="1.3"/><rect x="170.0" y="120.3" width="1.3" height="1.3"/><rect x="169.6" y="116.3" width="1.3" height="1.3"/><rect x="162.1" y="123.1" width="1.3" height="1.3"/><rect x="161.4" y="113.5" width="1.3" height="1.3"/><rect x="160.8" y="122.4" width="1.3" height="1.3"/><rect x="160.4" y="114.2" width="1.3" height="1.3"/><rect x="171.5" y="124.0" width="1.3" height="1.3"/><rect x="171.9" y="112.6" width="1.3" height="1.3"/><rect x="172.9" y="125.3" width="1.3" height="1.3"/><rect x="173.5" y="111.3" width="1.3" height="1.3"/><rect x="167.8" y="122.6" width="1.3" height="1.3"/><rect x="168.6" y="114.0" width="1.3" height="1.3"/><rect x="163.2" y="125.4" width="1.3" height="1.3"/><rect x="163.5" y="111.2" width="1.3" height="1.3"/><rect x="161.2" y="126.1" width="1.3" height="1.3"/><rect x="161.9" y="110.5" width="1.3" height="1.3"/><rect x="172.3" y="125.4" width="1.3" height="1.3"/><rect x="172.8" y="111.2" width="1.3" height="1.3"/><rect x="163.0" y="124.0" width="1.3" height="1.3"/><rect x="163.1" y="112.6" width="1.3" height="1.3"/><rect x="228.1" y="121.9" width="1.3" height="1.3"/><rect x="228.6" y="114.7" width="1.3" height="1.3"/><rect x="227.6" y="122.1" width="1.3" height="1.3"/><rect x="227.9" y="114.5" width="1.3" height="1.3"/><rect x="279.7" y="121.7" width="1.3" height="1.3"/><rect x="279.0" y="114.9" width="1.3" height="1.3"/><rect x="273.0" y="122.5" width="1.3" height="1.3"/><rect x="272.4" y="114.1" width="1.3" height="1.3"/><rect x="281.4" y="123.7" width="1.3" height="1.3"/><rect x="281.6" y="112.9" width="1.3" height="1.3"/><rect x="278.9" y="124.4" width="1.3" height="1.3"/><rect x="278.9" y="112.2" width="1.3" height="1.3"/><rect x="279.4" y="125.3" width="1.3" height="1.3"/><rect x="279.8" y="111.3" width="1.3" height="1.3"/><rect x="281.4" y="124.0" width="1.3" height="1.3"/><rect x="281.7" y="112.6" width="1.3" height="1.3"/><rect x="279.7" y="125.0" width="1.3" height="1.3"/><rect x="279.3" y="111.6" width="1.3" height="1.3"/><rect x="279.7" y="122.6" width="1.3" height="1.3"/><rect x="280.1" y="114.0" width="1.3" height="1.3"/><rect x="298.4" y="121.3" width="1.3" height="1.3"/><rect x="299.2" y="115.3" width="1.3" height="1.3"/><rect x="299.9" y="119.8" width="1.3" height="1.3"/><rect x="299.8" y="116.8" width="1.3" height="1.3"/><rect x="300.8" y="121.4" width="1.3" height="1.3"/><rect x="301.0" y="115.2" width="1.3" height="1.3"/><rect x="300.6" y="118.6" width="1.3" height="1.3"/><rect x="300.0" y="118.0" width="1.3" height="1.3"/><rect x="298.7" y="121.3" width="1.3" height="1.3"/><rect x="298.4" y="115.3" width="1.3" height="1.3"/><rect x="300.2" y="118.3" width="1.3" height="1.3"/><rect x="299.5" y="118.3" width="1.3" height="1.3"/><rect x="298.7" y="121.0" width="1.3" height="1.3"/><rect x="299.1" y="115.6" width="1.3" height="1.3"/><rect x="300.8" y="119.5" width="1.3" height="1.3"/><rect x="300.8" y="117.1" width="1.3" height="1.3"/><rect x="299.7" y="120.2" width="1.3" height="1.3"/><rect x="299.1" y="116.4" width="1.3" height="1.3"/><rect x="301.9" y="119.1" width="1.3" height="1.3"/><rect x="302.6" y="117.5" width="1.3" height="1.3"/><rect x="302.1" y="118.4" width="1.3" height="1.3"/><rect x="302.0" y="118.2" width="1.3" height="1.3"/><rect x="301.5" y="122.2" width="1.3" height="1.3"/><rect x="301.4" y="114.4" width="1.3" height="1.3"/><rect x="298.7" y="119.1" width="1.3" height="1.3"/><rect x="299.5" y="117.5" width="1.3" height="1.3"/><rect x="298.5" y="120.6" width="1.3" height="1.3"/><rect x="297.9" y="116.0" width="1.3" height="1.3"/><rect x="300.0" y="124.2" width="1.3" height="1.3"/><rect x="299.4" y="112.4" width="1.3" height="1.3"/><rect x="300.9" y="123.3" width="1.3" height="1.3"/><rect x="301.5" y="113.3" width="1.3" height="1.3"/><rect x="319.9" y="121.9" width="1.3" height="1.3"/><rect x="320.5" y="114.7" width="1.3" height="1.3"/><rect x="319.1" y="120.5" width="1.3" height="1.3"/><rect x="318.3" y="116.1" width="1.3" height="1.3"/><rect x="319.1" y="123.5" width="1.3" height="1.3"/><rect x="318.8" y="113.1" width="1.3" height="1.3"/><rect x="317.9" y="122.7" width="1.3" height="1.3"/><rect x="317.6" y="113.9" width="1.3" height="1.3"/><rect x="320.3" y="120.3" width="1.3" height="1.3"/><rect x="320.7" y="116.3" width="1.3" height="1.3"/><rect x="320.3" y="121.1" width="1.3" height="1.3"/><rect x="321.0" y="115.5" width="1.3" height="1.3"/><rect x="319.9" y="126.6" width="1.3" height="1.3"/><rect x="319.6" y="110.0" width="1.3" height="1.3"/><rect x="325.5" y="122.3" width="1.3" height="1.3"/><rect x="326.3" y="114.3" width="1.3" height="1.3"/><rect x="326.2" y="122.1" width="1.3" height="1.3"/><rect x="326.1" y="114.5" width="1.3" height="1.3"/><rect x="325.2" y="120.5" width="1.3" height="1.3"/><rect x="324.6" y="116.1" width="1.3" height="1.3"/><rect x="345.2" y="118.6" width="1.3" height="1.3"/><rect x="345.9" y="118.0" width="1.3" height="1.3"/><rect x="378.1" y="121.9" width="1.3" height="1.3"/><rect x="378.2" y="114.7" width="1.3" height="1.3"/><rect x="378.0" y="122.5" width="1.3" height="1.3"/><rect x="378.7" y="114.1" width="1.3" height="1.3"/><rect x="380.1" y="125.2" width="1.3" height="1.3"/><rect x="380.3" y="111.4" width="1.3" height="1.3"/><rect x="380.1" y="125.9" width="1.3" height="1.3"/><rect x="380.2" y="110.7" width="1.3" height="1.3"/><rect x="379.6" y="120.6" width="1.3" height="1.3"/><rect x="379.9" y="116.0" width="1.3" height="1.3"/><rect x="436.4" y="124.8" width="1.3" height="1.3"/><rect x="436.6" y="111.8" width="1.3" height="1.3"/><rect x="434.5" y="120.6" width="1.3" height="1.3"/><rect x="435.2" y="116.0" width="1.3" height="1.3"/><rect x="432.8" y="123.1" width="1.3" height="1.3"/><rect x="432.6" y="113.5" width="1.3" height="1.3"/><rect x="434.7" y="124.7" width="1.3" height="1.3"/><rect x="435.4" y="111.9" width="1.3" height="1.3"/><rect x="104.7" y="149.8" width="1.3" height="1.3"/><rect x="104.3" y="140.6" width="1.3" height="1.3"/><rect x="105.2" y="148.8" width="1.3" height="1.3"/><rect x="104.7" y="141.6" width="1.3" height="1.3"/><rect x="104.5" y="148.0" width="1.3" height="1.3"/><rect x="105.1" y="142.4" width="1.3" height="1.3"/><rect x="105.1" y="148.1" width="1.3" height="1.3"/><rect x="105.7" y="142.3" width="1.3" height="1.3"/><rect x="106.0" y="149.0" width="1.3" height="1.3"/><rect x="105.4" y="141.4" width="1.3" height="1.3"/><rect x="161.7" y="147.7" width="1.3" height="1.3"/><rect x="161.4" y="142.7" width="1.3" height="1.3"/><rect x="161.3" y="148.6" width="1.3" height="1.3"/><rect x="160.9" y="141.8" width="1.3" height="1.3"/><rect x="163.2" y="152.5" width="1.3" height="1.3"/><rect x="163.6" y="137.9" width="1.3" height="1.3"/><rect x="162.6" y="149.7" width="1.3" height="1.3"/><rect x="162.6" y="140.7" width="1.3" height="1.3"/><rect x="162.4" y="149.2" width="1.3" height="1.3"/><rect x="161.7" y="141.2" width="1.3" height="1.3"/><rect x="162.0" y="153.0" width="1.3" height="1.3"/><rect x="161.4" y="137.4" width="1.3" height="1.3"/><rect x="162.9" y="151.0" width="1.3" height="1.3"/><rect x="163.5" y="139.4" width="1.3" height="1.3"/><rect x="161.8" y="148.8" width="1.3" height="1.3"/><rect x="161.4" y="141.6" width="1.3" height="1.3"/><rect x="168.8" y="148.9" width="1.3" height="1.3"/><rect x="169.5" y="141.5" width="1.3" height="1.3"/><rect x="173.7" y="151.4" width="1.3" height="1.3"/><rect x="173.0" y="139.0" width="1.3" height="1.3"/><rect x="164.8" y="150.5" width="1.3" height="1.3"/><rect x="165.4" y="139.9" width="1.3" height="1.3"/><rect x="169.6" y="149.7" width="1.3" height="1.3"/><rect x="168.8" y="140.7" width="1.3" height="1.3"/><rect x="168.7" y="151.8" width="1.3" height="1.3"/><rect x="169.2" y="138.6" width="1.3" height="1.3"/><rect x="180.2" y="151.1" width="1.3" height="1.3"/><rect x="179.8" y="139.3" width="1.3" height="1.3"/><rect x="176.9" y="148.7" width="1.3" height="1.3"/><rect x="176.9" y="141.7" width="1.3" height="1.3"/><rect x="179.5" y="151.0" width="1.3" height="1.3"/><rect x="179.8" y="139.4" width="1.3" height="1.3"/><rect x="179.3" y="150.5" width="1.3" height="1.3"/><rect x="179.2" y="139.9" width="1.3" height="1.3"/><rect x="204.5" y="146.4" width="1.3" height="1.3"/><rect x="204.9" y="144.0" width="1.3" height="1.3"/><rect x="204.1" y="150.8" width="1.3" height="1.3"/><rect x="204.4" y="139.6" width="1.3" height="1.3"/><rect x="204.2" y="146.8" width="1.3" height="1.3"/><rect x="203.8" y="143.6" width="1.3" height="1.3"/><rect x="204.5" y="149.7" width="1.3" height="1.3"/><rect x="203.9" y="140.7" width="1.3" height="1.3"/><rect x="226.5" y="148.8" width="1.3" height="1.3"/><rect x="226.7" y="141.6" width="1.3" height="1.3"/><rect x="227.2" y="147.9" width="1.3" height="1.3"/><rect x="227.3" y="142.5" width="1.3" height="1.3"/><rect x="271.5" y="149.0" width="1.3" height="1.3"/><rect x="271.5" y="141.4" width="1.3" height="1.3"/><rect x="282.9" y="151.1" width="1.3" height="1.3"/><rect x="283.5" y="139.3" width="1.3" height="1.3"/><rect x="277.1" y="148.6" width="1.3" height="1.3"/><rect x="276.7" y="141.8" width="1.3" height="1.3"/><rect x="282.9" y="151.4" width="1.3" height="1.3"/><rect x="282.6" y="139.0" width="1.3" height="1.3"/><rect x="279.5" y="150.7" width="1.3" height="1.3"/><rect x="279.8" y="139.7" width="1.3" height="1.3"/><rect x="281.1" y="149.5" width="1.3" height="1.3"/><rect x="281.3" y="140.9" width="1.3" height="1.3"/><rect x="283.1" y="149.3" width="1.3" height="1.3"/><rect x="282.4" y="141.1" width="1.3" height="1.3"/><rect x="280.8" y="150.3" width="1.3" height="1.3"/><rect x="281.0" y="140.1" width="1.3" height="1.3"/><rect x="298.4" y="148.4" width="1.3" height="1.3"/><rect x="298.8" y="142.0" width="1.3" height="1.3"/><rect x="299.9" y="146.0" width="1.3" height="1.3"/><rect x="300.7" y="144.4" width="1.3" height="1.3"/><rect x="299.0" y="148.5" width="1.3" height="1.3"/><rect x="298.5" y="141.9" width="1.3" height="1.3"/><rect x="298.5" y="148.2" width="1.3" height="1.3"/><rect x="298.2" y="142.2" width="1.3" height="1.3"/><rect x="302.2" y="147.2" width="1.3" height="1.3"/><rect x="301.7" y="143.2" width="1.3" height="1.3"/><rect x="298.5" y="146.9" width="1.3" height="1.3"/><rect x="298.8" y="143.5" width="1.3" height="1.3"/><rect x="302.1" y="145.8" width="1.3" height="1.3"/><rect x="302.0" y="144.6" width="1.3" height="1.3"/><rect x="298.5" y="149.1" width="1.3" height="1.3"/><rect x="297.9" y="141.3" width="1.3" height="1.3"/><rect x="297.7" y="145.4" width="1.3" height="1.3"/><rect x="297.5" y="145.0" width="1.3" height="1.3"/><rect x="301.9" y="148.7" width="1.3" height="1.3"/><rect x="302.3" y="141.7" width="1.3" height="1.3"/><rect x="302.4" y="148.9" width="1.3" height="1.3"/><rect x="302.1" y="141.5" width="1.3" height="1.3"/><rect x="298.3" y="148.9" width="1.3" height="1.3"/><rect x="298.7" y="141.5" width="1.3" height="1.3"/><rect x="297.6" y="147.9" width="1.3" height="1.3"/><rect x="297.4" y="142.5" width="1.3" height="1.3"/><rect x="299.3" y="146.5" width="1.3" height="1.3"/><rect x="298.7" y="143.9" width="1.3" height="1.3"/><rect x="298.4" y="149.8" width="1.3" height="1.3"/><rect x="298.2" y="140.6" width="1.3" height="1.3"/><rect x="301.3" y="149.4" width="1.3" height="1.3"/><rect x="302.0" y="141.0" width="1.3" height="1.3"/><rect x="318.1" y="149.7" width="1.3" height="1.3"/><rect x="318.6" y="140.7" width="1.3" height="1.3"/><rect x="320.3" y="150.2" width="1.3" height="1.3"/><rect x="319.6" y="140.2" width="1.3" height="1.3"/><rect x="319.1" y="149.8" width="1.3" height="1.3"/><rect x="319.7" y="140.6" width="1.3" height="1.3"/><rect x="318.1" y="149.7" width="1.3" height="1.3"/><rect x="318.7" y="140.7" width="1.3" height="1.3"/><rect x="317.5" y="150.1" width="1.3" height="1.3"/><rect x="318.0" y="140.3" width="1.3" height="1.3"/><rect x="320.1" y="147.5" width="1.3" height="1.3"/><rect x="319.3" y="142.9" width="1.3" height="1.3"/><rect x="317.6" y="153.6" width="1.3" height="1.3"/><rect x="317.2" y="136.8" width="1.3" height="1.3"/><rect x="326.6" y="151.7" width="1.3" height="1.3"/><rect x="326.4" y="138.7" width="1.3" height="1.3"/><rect x="325.2" y="152.0" width="1.3" height="1.3"/><rect x="325.4" y="138.4" width="1.3" height="1.3"/><rect x="325.2" y="150.8" width="1.3" height="1.3"/><rect x="324.9" y="139.6" width="1.3" height="1.3"/><rect x="349.0" y="147.2" width="1.3" height="1.3"/><rect x="349.4" y="143.2" width="1.3" height="1.3"/><rect x="350.2" y="147.8" width="1.3" height="1.3"/><rect x="350.9" y="142.6" width="1.3" height="1.3"/><rect x="378.5" y="148.6" width="1.3" height="1.3"/><rect x="378.5" y="141.8" width="1.3" height="1.3"/><rect x="384.1" y="152.9" width="1.3" height="1.3"/><rect x="384.0" y="137.5" width="1.3" height="1.3"/><rect x="379.9" y="149.8" width="1.3" height="1.3"/><rect x="379.9" y="140.6" width="1.3" height="1.3"/><rect x="384.0" y="148.3" width="1.3" height="1.3"/><rect x="384.5" y="142.1" width="1.3" height="1.3"/><rect x="382.8" y="152.1" width="1.3" height="1.3"/><rect x="383.3" y="138.3" width="1.3" height="1.3"/><rect x="382.0" y="149.2" width="1.3" height="1.3"/><rect x="381.8" y="141.2" width="1.3" height="1.3"/><rect x="408.1" y="149.8" width="1.3" height="1.3"/><rect x="407.5" y="140.6" width="1.3" height="1.3"/><rect x="433.6" y="151.7" width="1.3" height="1.3"/><rect x="433.2" y="138.7" width="1.3" height="1.3"/><rect x="432.1" y="147.4" width="1.3" height="1.3"/><rect x="432.2" y="143.0" width="1.3" height="1.3"/><rect x="435.0" y="153.1" width="1.3" height="1.3"/><rect x="435.6" y="137.3" width="1.3" height="1.3"/><rect x="442.3" y="148.8" width="1.3" height="1.3"/><rect x="441.6" y="141.6" width="1.3" height="1.3"/><rect x="104.4" y="175.9" width="1.3" height="1.3"/><rect x="104.7" y="167.9" width="1.3" height="1.3"/><rect x="105.0" y="174.8" width="1.3" height="1.3"/><rect x="104.9" y="169.0" width="1.3" height="1.3"/><rect x="105.3" y="176.6" width="1.3" height="1.3"/><rect x="105.7" y="167.2" width="1.3" height="1.3"/><rect x="105.7" y="176.6" width="1.3" height="1.3"/><rect x="105.1" y="167.2" width="1.3" height="1.3"/><rect x="105.7" y="175.1" width="1.3" height="1.3"/><rect x="105.8" y="168.7" width="1.3" height="1.3"/><rect x="162.4" y="178.7" width="1.3" height="1.3"/><rect x="161.9" y="165.1" width="1.3" height="1.3"/><rect x="161.9" y="175.5" width="1.3" height="1.3"/><rect x="161.3" y="168.3" width="1.3" height="1.3"/><rect x="164.4" y="177.7" width="1.3" height="1.3"/><rect x="164.2" y="166.1" width="1.3" height="1.3"/><rect x="162.5" y="180.4" width="1.3" height="1.3"/><rect x="162.5" y="163.4" width="1.3" height="1.3"/><rect x="161.8" y="179.2" width="1.3" height="1.3"/><rect x="162.1" y="164.6" width="1.3" height="1.3"/><rect x="164.9" y="174.6" width="1.3" height="1.3"/><rect x="164.8" y="169.2" width="1.3" height="1.3"/><rect x="164.2" y="179.4" width="1.3" height="1.3"/><rect x="164.8" y="164.4" width="1.3" height="1.3"/><rect x="161.1" y="175.8" width="1.3" height="1.3"/><rect x="160.5" y="168.0" width="1.3" height="1.3"/><rect x="161.7" y="180.2" width="1.3" height="1.3"/><rect x="161.8" y="163.6" width="1.3" height="1.3"/><rect x="174.6" y="175.1" width="1.3" height="1.3"/><rect x="175.2" y="168.7" width="1.3" height="1.3"/><rect x="169.3" y="174.5" width="1.3" height="1.3"/><rect x="169.8" y="169.3" width="1.3" height="1.3"/><rect x="174.8" y="173.5" width="1.3" height="1.3"/><rect x="175.0" y="170.3" width="1.3" height="1.3"/><rect x="171.2" y="174.2" width="1.3" height="1.3"/><rect x="171.0" y="169.6" width="1.3" height="1.3"/><rect x="166.0" y="174.1" width="1.3" height="1.3"/><rect x="165.6" y="169.7" width="1.3" height="1.3"/><rect x="179.1" y="176.9" width="1.3" height="1.3"/><rect x="178.6" y="166.9" width="1.3" height="1.3"/><rect x="176.5" y="175.9" width="1.3" height="1.3"/><rect x="176.7" y="167.9" width="1.3" height="1.3"/><rect x="177.2" y="175.8" width="1.3" height="1.3"/><rect x="176.8" y="168.0" width="1.3" height="1.3"/><rect x="180.0" y="176.5" width="1.3" height="1.3"/><rect x="179.3" y="167.3" width="1.3" height="1.3"/><rect x="204.0" y="174.9" width="1.3" height="1.3"/><rect x="204.1" y="168.9" width="1.3" height="1.3"/><rect x="204.5" y="173.4" width="1.3" height="1.3"/><rect x="204.0" y="170.4" width="1.3" height="1.3"/><rect x="204.6" y="174.9" width="1.3" height="1.3"/><rect x="204.2" y="168.9" width="1.3" height="1.3"/><rect x="204.2" y="177.7" width="1.3" height="1.3"/><rect x="203.9" y="166.1" width="1.3" height="1.3"/><rect x="227.5" y="175.0" width="1.3" height="1.3"/><rect x="227.4" y="168.8" width="1.3" height="1.3"/><rect x="228.1" y="176.9" width="1.3" height="1.3"/><rect x="227.9" y="166.9" width="1.3" height="1.3"/><rect x="258.2" y="173.4" width="1.3" height="1.3"/><rect x="257.7" y="170.4" width="1.3" height="1.3"/><rect x="257.4" y="173.7" width="1.3" height="1.3"/><rect x="257.3" y="170.1" width="1.3" height="1.3"/><rect x="281.2" y="176.3" width="1.3" height="1.3"/><rect x="281.9" y="167.5" width="1.3" height="1.3"/><rect x="276.9" y="174.9" width="1.3" height="1.3"/><rect x="276.2" y="168.9" width="1.3" height="1.3"/><rect x="278.0" y="177.7" width="1.3" height="1.3"/><rect x="278.7" y="166.1" width="1.3" height="1.3"/><rect x="272.5" y="177.6" width="1.3" height="1.3"/><rect x="272.3" y="166.2" width="1.3" height="1.3"/><rect x="281.4" y="175.6" width="1.3" height="1.3"/><rect x="281.1" y="168.2" width="1.3" height="1.3"/><rect x="281.5" y="179.5" width="1.3" height="1.3"/><rect x="280.9" y="164.3" width="1.3" height="1.3"/><rect x="281.4" y="178.9" width="1.3" height="1.3"/><rect x="282.1" y="164.9" width="1.3" height="1.3"/><rect x="280.2" y="175.5" width="1.3" height="1.3"/><rect x="280.9" y="168.3" width="1.3" height="1.3"/><rect x="302.3" y="173.8" width="1.3" height="1.3"/><rect x="301.6" y="170.0" width="1.3" height="1.3"/><rect x="302.0" y="173.5" width="1.3" height="1.3"/><rect x="302.7" y="170.3" width="1.3" height="1.3"/><rect x="300.5" y="175.2" width="1.3" height="1.3"/><rect x="300.0" y="168.6" width="1.3" height="1.3"/><rect x="301.3" y="172.8" width="1.3" height="1.3"/><rect x="301.2" y="171.0" width="1.3" height="1.3"/><rect x="301.6" y="175.2" width="1.3" height="1.3"/><rect x="301.1" y="168.6" width="1.3" height="1.3"/><rect x="298.5" y="173.5" width="1.3" height="1.3"/><rect x="298.5" y="170.3" width="1.3" height="1.3"/><rect x="299.3" y="172.4" width="1.3" height="1.3"/><rect x="298.9" y="171.4" width="1.3" height="1.3"/><rect x="301.0" y="175.5" width="1.3" height="1.3"/><rect x="300.3" y="168.3" width="1.3" height="1.3"/><rect x="300.2" y="174.9" width="1.3" height="1.3"/><rect x="299.5" y="168.9" width="1.3" height="1.3"/><rect x="301.6" y="172.4" width="1.3" height="1.3"/><rect x="301.8" y="171.4" width="1.3" height="1.3"/><rect x="300.2" y="174.4" width="1.3" height="1.3"/><rect x="299.8" y="169.4" width="1.3" height="1.3"/><rect x="299.5" y="174.2" width="1.3" height="1.3"/><rect x="299.4" y="169.6" width="1.3" height="1.3"/><rect x="300.7" y="173.7" width="1.3" height="1.3"/><rect x="300.6" y="170.1" width="1.3" height="1.3"/><rect x="297.5" y="174.4" width="1.3" height="1.3"/><rect x="297.5" y="169.4" width="1.3" height="1.3"/><rect x="299.1" y="177.4" width="1.3" height="1.3"/><rect x="299.6" y="166.4" width="1.3" height="1.3"/><rect x="299.8" y="176.3" width="1.3" height="1.3"/><rect x="299.7" y="167.5" width="1.3" height="1.3"/><rect x="317.8" y="174.8" width="1.3" height="1.3"/><rect x="317.7" y="169.0" width="1.3" height="1.3"/><rect x="317.7" y="177.0" width="1.3" height="1.3"/><rect x="317.7" y="166.8" width="1.3" height="1.3"/><rect x="317.5" y="178.4" width="1.3" height="1.3"/><rect x="316.9" y="165.4" width="1.3" height="1.3"/><rect x="320.0" y="179.3" width="1.3" height="1.3"/><rect x="320.0" y="164.5" width="1.3" height="1.3"/><rect x="317.6" y="177.4" width="1.3" height="1.3"/><rect x="317.4" y="166.4" width="1.3" height="1.3"/><rect x="320.7" y="174.9" width="1.3" height="1.3"/><rect x="321.3" y="168.9" width="1.3" height="1.3"/><rect x="320.9" y="179.0" width="1.3" height="1.3"/><rect x="321.4" y="164.8" width="1.3" height="1.3"/><rect x="325.0" y="178.8" width="1.3" height="1.3"/><rect x="325.0" y="165.0" width="1.3" height="1.3"/><rect x="327.3" y="178.5" width="1.3" height="1.3"/><rect x="326.7" y="165.3" width="1.3" height="1.3"/><rect x="326.8" y="178.6" width="1.3" height="1.3"/><rect x="326.1" y="165.2" width="1.3" height="1.3"/><rect x="349.1" y="174.7" width="1.3" height="1.3"/><rect x="348.6" y="169.1" width="1.3" height="1.3"/><rect x="350.2" y="174.2" width="1.3" height="1.3"/><rect x="350.7" y="169.6" width="1.3" height="1.3"/><rect x="379.3" y="176.9" width="1.3" height="1.3"/><rect x="379.9" y="166.9" width="1.3" height="1.3"/><rect x="379.6" y="175.5" width="1.3" height="1.3"/><rect x="379.7" y="168.3" width="1.3" height="1.3"/><rect x="380.3" y="174.1" width="1.3" height="1.3"/><rect x="379.8" y="169.7" width="1.3" height="1.3"/><rect x="379.4" y="179.5" width="1.3" height="1.3"/><rect x="379.7" y="164.3" width="1.3" height="1.3"/><rect x="383.8" y="174.9" width="1.3" height="1.3"/><rect x="384.2" y="168.9" width="1.3" height="1.3"/><rect x="379.1" y="177.1" width="1.3" height="1.3"/><rect x="379.3" y="166.7" width="1.3" height="1.3"/><rect x="408.1" y="176.6" width="1.3" height="1.3"/><rect x="408.2" y="167.2" width="1.3" height="1.3"/><rect x="437.8" y="179.2" width="1.3" height="1.3"/><rect x="437.1" y="164.6" width="1.3" height="1.3"/><rect x="442.3" y="177.7" width="1.3" height="1.3"/><rect x="442.2" y="166.1" width="1.3" height="1.3"/><rect x="440.2" y="175.5" width="1.3" height="1.3"/><rect x="441.0" y="168.3" width="1.3" height="1.3"/><rect x="437.8" y="176.1" width="1.3" height="1.3"/><rect x="438.2" y="167.7" width="1.3" height="1.3"/><rect x="309.9" y="198.9" width="1.3" height="1.3"/><rect x="310.3" y="198.3" width="1.3" height="1.3"/><rect x="303.2" y="199.9" width="1.3" height="1.3"/><rect x="302.8" y="197.3" width="1.3" height="1.3"/><rect x="313.3" y="200.2" width="1.3" height="1.3"/><rect x="313.4" y="197.0" width="1.3" height="1.3"/><rect x="313.7" y="199.1" width="1.3" height="1.3"/><rect x="312.9" y="198.1" width="1.3" height="1.3"/><rect x="303.0" y="198.8" width="1.3" height="1.3"/><rect x="303.2" y="198.4" width="1.3" height="1.3"/><rect x="331.9" y="49.1" width="1.3" height="1.3"/><rect x="332.5" y="27.7" width="1.3" height="1.3"/><rect x="329.5" y="47.9" width="1.3" height="1.3"/><rect x="329.7" y="28.9" width="1.3" height="1.3"/><rect x="328.6" y="46.9" width="1.3" height="1.3"/><rect x="328.3" y="29.9" width="1.3" height="1.3"/><rect x="329.3" y="48.4" width="1.3" height="1.3"/><rect x="328.8" y="28.4" width="1.3" height="1.3"/><rect x="333.1" y="49.4" width="1.3" height="1.3"/><rect x="332.6" y="27.4" width="1.3" height="1.3"/><rect x="333.4" y="48.9" width="1.3" height="1.3"/><rect x="332.8" y="27.9" width="1.3" height="1.3"/><rect x="335.9" y="47.9" width="1.3" height="1.3"/><rect x="335.3" y="28.9" width="1.3" height="1.3"/><rect x="329.2" y="45.7" width="1.3" height="1.3"/><rect x="329.8" y="31.1" width="1.3" height="1.3"/><rect x="334.7" y="43.0" width="1.3" height="1.3"/><rect x="334.3" y="33.8" width="1.3" height="1.3"/><rect x="328.5" y="45.8" width="1.3" height="1.3"/><rect x="328.6" y="31.0" width="1.3" height="1.3"/><rect x="331.2" y="72.5" width="1.3" height="1.3"/><rect x="331.1" y="58.1" width="1.3" height="1.3"/><rect x="335.9" y="72.9" width="1.3" height="1.3"/><rect x="335.5" y="57.7" width="1.3" height="1.3"/><rect x="335.6" y="70.0" width="1.3" height="1.3"/><rect x="335.7" y="60.6" width="1.3" height="1.3"/><rect x="331.6" y="70.8" width="1.3" height="1.3"/><rect x="330.9" y="59.8" width="1.3" height="1.3"/><rect x="334.6" y="69.9" width="1.3" height="1.3"/><rect x="334.7" y="60.7" width="1.3" height="1.3"/><rect x="335.9" y="70.4" width="1.3" height="1.3"/><rect x="335.4" y="60.2" width="1.3" height="1.3"/><rect x="333.3" y="71.9" width="1.3" height="1.3"/><rect x="333.5" y="58.7" width="1.3" height="1.3"/><rect x="334.9" y="66.6" width="1.3" height="1.3"/><rect x="334.6" y="64.0" width="1.3" height="1.3"/><rect x="330.8" y="65.7" width="1.3" height="1.3"/><rect x="331.4" y="64.9" width="1.3" height="1.3"/><rect x="334.7" y="70.7" width="1.3" height="1.3"/><rect x="333.9" y="59.9" width="1.3" height="1.3"/><rect x="335.2" y="99.7" width="1.3" height="1.3"/><rect x="335.1" y="83.9" width="1.3" height="1.3"/><rect x="334.3" y="98.5" width="1.3" height="1.3"/><rect x="333.9" y="85.1" width="1.3" height="1.3"/><rect x="329.2" y="97.6" width="1.3" height="1.3"/><rect x="328.5" y="86.0" width="1.3" height="1.3"/><rect x="331.1" y="99.7" width="1.3" height="1.3"/><rect x="331.4" y="83.9" width="1.3" height="1.3"/><rect x="335.2" y="99.6" width="1.3" height="1.3"/><rect x="334.8" y="84.0" width="1.3" height="1.3"/><rect x="332.8" y="98.4" width="1.3" height="1.3"/><rect x="333.3" y="85.2" width="1.3" height="1.3"/><rect x="332.6" y="97.7" width="1.3" height="1.3"/><rect x="332.8" y="85.9" width="1.3" height="1.3"/><rect x="336.1" y="93.5" width="1.3" height="1.3"/><rect x="336.7" y="90.1" width="1.3" height="1.3"/><rect x="328.5" y="93.8" width="1.3" height="1.3"/><rect x="328.1" y="89.8" width="1.3" height="1.3"/><rect x="334.4" y="99.2" width="1.3" height="1.3"/><rect x="334.7" y="84.4" width="1.3" height="1.3"/><rect x="331.0" y="129.0" width="1.3" height="1.3"/><rect x="330.7" y="107.6" width="1.3" height="1.3"/><rect x="330.3" y="129.1" width="1.3" height="1.3"/><rect x="330.5" y="107.5" width="1.3" height="1.3"/><rect x="333.9" y="128.1" width="1.3" height="1.3"/><rect x="334.7" y="108.5" width="1.3" height="1.3"/><rect x="332.2" y="128.8" width="1.3" height="1.3"/><rect x="332.5" y="107.8" width="1.3" height="1.3"/><rect x="335.3" y="127.1" width="1.3" height="1.3"/><rect x="335.6" y="109.5" width="1.3" height="1.3"/><rect x="333.0" y="126.6" width="1.3" height="1.3"/><rect x="332.5" y="110.0" width="1.3" height="1.3"/><rect x="333.4" y="125.6" width="1.3" height="1.3"/><rect x="334.0" y="111.0" width="1.3" height="1.3"/><rect x="329.6" y="118.6" width="1.3" height="1.3"/><rect x="328.9" y="118.0" width="1.3" height="1.3"/><rect x="335.8" y="121.7" width="1.3" height="1.3"/><rect x="335.3" y="114.9" width="1.3" height="1.3"/><rect x="328.6" y="118.7" width="1.3" height="1.3"/><rect x="328.9" y="117.9" width="1.3" height="1.3"/><rect x="333.5" y="155.7" width="1.3" height="1.3"/><rect x="333.8" y="134.7" width="1.3" height="1.3"/><rect x="328.9" y="155.3" width="1.3" height="1.3"/><rect x="328.7" y="135.1" width="1.3" height="1.3"/><rect x="334.9" y="156.2" width="1.3" height="1.3"/><rect x="335.6" y="134.2" width="1.3" height="1.3"/><rect x="328.9" y="156.4" width="1.3" height="1.3"/><rect x="329.6" y="134.0" width="1.3" height="1.3"/><rect x="336.0" y="153.2" width="1.3" height="1.3"/><rect x="335.5" y="137.2" width="1.3" height="1.3"/><rect x="329.3" y="152.9" width="1.3" height="1.3"/><rect x="329.9" y="137.5" width="1.3" height="1.3"/><rect x="334.9" y="155.5" width="1.3" height="1.3"/><rect x="335.4" y="134.9" width="1.3" height="1.3"/><rect x="333.5" y="148.2" width="1.3" height="1.3"/><rect x="332.8" y="142.2" width="1.3" height="1.3"/><rect x="329.2" y="153.2" width="1.3" height="1.3"/><rect x="328.7" y="137.2" width="1.3" height="1.3"/><rect x="331.0" y="149.7" width="1.3" height="1.3"/><rect x="330.2" y="140.7" width="1.3" height="1.3"/><rect x="330.5" y="180.7" width="1.3" height="1.3"/><rect x="330.8" y="163.1" width="1.3" height="1.3"/><rect x="331.3" y="180.8" width="1.3" height="1.3"/><rect x="332.1" y="163.0" width="1.3" height="1.3"/><rect x="332.4" y="183.1" width="1.3" height="1.3"/><rect x="332.6" y="160.7" width="1.3" height="1.3"/><rect x="328.6" y="181.2" width="1.3" height="1.3"/><rect x="328.5" y="162.6" width="1.3" height="1.3"/><rect x="334.6" y="181.0" width="1.3" height="1.3"/><rect x="334.9" y="162.8" width="1.3" height="1.3"/><rect x="332.7" y="180.4" width="1.3" height="1.3"/><rect x="333.3" y="163.4" width="1.3" height="1.3"/><rect x="329.1" y="182.9" width="1.3" height="1.3"/><rect x="328.6" y="160.9" width="1.3" height="1.3"/><rect x="328.4" y="174.0" width="1.3" height="1.3"/><rect x="328.8" y="169.8" width="1.3" height="1.3"/><rect x="336.2" y="171.9" width="1.3" height="1.3"/><rect x="336.2" y="171.9" width="1.3" height="1.3"/><rect x="332.3" y="180.3" width="1.3" height="1.3"/><rect x="331.8" y="163.5" width="1.3" height="1.3"/></g>
<rect x="397.6" y="29.5" width="17.1" height="75.2" fill="none" stroke="#2f9e55" stroke-width="1.7"/>
<g stroke="#444" stroke-width="1.4"><line x1="82.7" y1="30.8" x2="86.8" y2="30.8"/><line x1="82.7" y1="47.2" x2="86.8" y2="47.2"/><line x1="82.7" y1="57.7" x2="86.8" y2="57.7"/><line x1="82.7" y1="74.1" x2="86.8" y2="74.1"/><line x1="82.7" y1="84.2" x2="86.8" y2="84.2"/><line x1="82.7" y1="100.6" x2="86.8" y2="100.6"/><line x1="82.7" y1="110.7" x2="86.8" y2="110.7"/><line x1="82.7" y1="127.1" x2="86.8" y2="127.1"/><line x1="82.7" y1="137.6" x2="86.8" y2="137.6"/><line x1="82.7" y1="154.0" x2="86.8" y2="154.0"/><line x1="82.7" y1="164.3" x2="86.8" y2="164.3"/><line x1="82.7" y1="180.7" x2="86.8" y2="180.7"/><line x1="82.7" y1="191.0" x2="86.8" y2="191.0"/><line x1="82.7" y1="207.4" x2="86.8" y2="207.4"/><line x1="82.7" y1="217.6" x2="86.8" y2="217.6"/><line x1="82.7" y1="234.0" x2="86.8" y2="234.0"/></g>
<g fill="#9a9a9a" font-family="Liberation Sans, sans-serif" font-size="4.3"><text transform="translate(72.2,32.2) scale(1.5,0.82)">0.8</text><text transform="translate(72.2,48.6) scale(1.5,0.82)">0.2</text><text transform="translate(72.2,59.1) scale(1.5,0.82)">0.8</text><text transform="translate(72.2,75.5) scale(1.5,0.82)">0.2</text><text transform="translate(72.2,85.6) scale(1.5,0.82)">0.8</text><text transform="translate(72.2,102.0) scale(1.5,0.82)">0.2</text><text transform="translate(72.2,112.1) scale(1.5,0.82)">0.8</text><text transform="translate(72.2,128.5) scale(1.5,0.82)">0.2</text><text transform="translate(72.2,139.0) scale(1.5,0.82)">0.8</text><text transform="translate(72.2,155.4) scale(1.5,0.82)">0.2</text><text transform="translate(72.2,165.7) scale(1.5,0.82)">0.8</text><text transform="translate(72.2,182.1) scale(1.5,0.82)">0.2</text><text transform="translate(72.2,192.4) scale(1.5,0.82)">0.8</text><text transform="translate(72.2,208.8) scale(1.5,0.82)">0.2</text><text transform="translate(72.2,219.0) scale(1.5,0.82)">0.8</text><text transform="translate(72.2,235.4) scale(1.5,0.82)">0.2</text></g>
<g font-family="Liberation Sans, sans-serif" font-weight="bold" font-size="6" fill="#111" stroke="#111" stroke-width="0.35"><text transform="translate(50,36.4) scale(1.9,1)">T1</text><text transform="translate(50,66.9) scale(1.9,1)">LN1</text><text transform="translate(50,96.0) scale(1.9,1)">LN2</text><text transform="translate(50,126.1) scale(1.9,1)">T4</text><text transform="translate(50,148.2) scale(1.9,1)">T2</text><text transform="translate(50,172.9) scale(1.9,1)">T3</text><text transform="translate(50,201.4) scale(1.9,1)">ME1</text><text transform="translate(50,226.7) scale(1.9,1)">N3</text></g>
<g font-family="Liberation Sans, sans-serif" font-weight="bold" font-size="5.4" fill="#111" stroke="#111" stroke-width="0.4" text-anchor="middle"><text transform="translate(95.7,245) scale(1.7,0.8)">1</text><text transform="translate(137,249.5) scale(1.7,0.8)">2</text><text transform="translate(168,245) scale(1.7,0.8)">3</text><text transform="translate(200.3,249.5) scale(1.7,0.8)">4</text><text transform="translate(229.6,245) scale(1.7,0.8)">5</text><text transform="translate(259.2,249.5) scale(1.7,0.8)">6</text><text transform="translate(278.8,245) scale(1.7,0.8)">7</text><text transform="translate(301.5,249.5) scale(1.7,0.8)">8</text><text transform="translate(322.3,245) scale(1.7,0.8)">9</text><text transform="translate(345.8,249.5) scale(1.7,0.8)">10</text><text transform="translate(366.2,245) scale(1.7,0.8)">11</text><text transform="translate(387,249.5) scale(1.7,0.8)">12</text><text transform="translate(404,245) scale(1.7,0.8)">13</text><text transform="translate(419.6,249.5) scale(1.7,0.8)">14</text><text transform="translate(437,245) scale(1.7,0.8)">15</text><text transform="translate(449.6,249.5) scale(1.7,0.8)">16</text><text transform="translate(464.2,245) scale(1.7,0.8)">17</text><text transform="translate(476,249.5) scale(1.7,0.8)">18</text><text transform="translate(485.8,245) scale(1.7,0.8)">19</text><text transform="translate(494.6,249.5) scale(1.7,0.8)">20</text><text transform="translate(502.7,245) scale(1.7,0.8)">21</text><text transform="translate(512.4,249.5) scale(1.7,0.8)">22</text></g>
<g stroke="#333" stroke-width="1.3" fill="none"><path d="M46.3,33.4 H43.5 Q42,33.4 42,35 V121.5 Q42,123.3 43.5,123.3 H46.3 M33.7,78.7 H42"/><path d="M46.3,127 H43.5 Q42,127 42,128.6 V171.6 Q42,173.3 43.5,173.3 H46.3 M33.3,151.5 H42"/><path d="M46.3,199.5 H43.5 Q42,199.5 42,201 V222 Q42,223.5 43.5,223.5 H46.3 M33.3,212 H42"/></g>
<g font-family="Liberation Sans, sans-serif" font-size="9.1" fill="#222" text-anchor="middle"><text transform="translate(7.9,75.8) rotate(-90)">Clade 1</text><text transform="translate(17.3,76.5) rotate(-90)">(Metastatic clade)</text><text transform="translate(8.2,149.5) rotate(-90)">Clade 2</text><text transform="translate(8.2,210) rotate(-90)">Clade 3</text></g>
<text x="3.6" y="12.8" font-family="Liberation Sans, sans-serif" font-weight="bold" font-size="14.5" fill="#000" stroke="#000" stroke-width="0.5">A</text>
<text x="133.5" y="8.2" font-family="Liberation Sans, sans-serif" font-weight="bold" font-size="9.7" fill="#000" stroke="#000" stroke-width="0.3" textLength="347" lengthAdjust="spacingAndGlyphs">BAF Profiles in a&#160; single PMEE tumor with multiple regions</text>
<text x="3.7" y="268" font-family="Liberation Sans, sans-serif" font-weight="bold" font-size="14.5" fill="#000" stroke="#000" stroke-width="0.5">B</text>
<text x="297.3" y="268.2" font-family="Liberation Sans, sans-serif" font-weight="bold" font-size="14.5" fill="#000" stroke="#000" stroke-width="0.5">C</text>
<g fill="#8f8f8f"><rect x="58.0" y="407.5" width="1.2" height="1.8"/><rect x="59.3" y="406.9" width="1.2" height="1.8"/><rect x="59.7" y="407.1" width="1.2" height="1.8"/><rect x="57.0" y="410.0" width="1.2" height="1.8"/><rect x="58.0" y="405.9" width="1.2" height="1.8"/><rect x="58.6" y="405.7" width="1.2" height="1.8"/><rect x="59.1" y="410.0" width="1.2" height="1.8"/><rect x="59.1" y="409.5" width="1.2" height="1.8"/><rect x="57.5" y="407.9" width="1.2" height="1.8"/><rect x="57.7" y="411.3" width="1.2" height="1.8"/><rect x="64.7" y="413.0" width="1.2" height="1.8"/><rect x="64.5" y="406.2" width="1.2" height="1.8"/><rect x="65.3" y="413.1" width="1.2" height="1.8"/><rect x="66.2" y="407.9" width="1.2" height="1.8"/><rect x="67.5" y="406.4" width="1.2" height="1.8"/><rect x="66.0" y="409.4" width="1.2" height="1.8"/><rect x="67.0" y="411.6" width="1.2" height="1.8"/><rect x="66.7" y="407.6" width="1.2" height="1.8"/><rect x="65.5" y="405.7" width="1.2" height="1.8"/><rect x="67.4" y="410.7" width="1.2" height="1.8"/><rect x="67.0" y="405.8" width="1.2" height="1.8"/><rect x="65.9" y="411.8" width="1.2" height="1.8"/><rect x="65.6" y="391.9" width="1.2" height="1.8"/><rect x="65.3" y="396.4" width="1.2" height="1.8"/><rect x="64.9" y="392.2" width="1.2" height="1.8"/><rect x="76.1" y="396.0" width="1.2" height="1.8"/><rect x="81.8" y="392.2" width="1.2" height="1.8"/><rect x="74.5" y="392.8" width="1.2" height="1.8"/><rect x="76.3" y="394.8" width="1.2" height="1.8"/><rect x="74.6" y="393.4" width="1.2" height="1.8"/><rect x="74.9" y="397.9" width="1.2" height="1.8"/><rect x="80.6" y="391.8" width="1.2" height="1.8"/><rect x="83.0" y="391.8" width="1.2" height="1.8"/><rect x="76.9" y="398.0" width="1.2" height="1.8"/><rect x="81.2" y="396.2" width="1.2" height="1.8"/><rect x="77.5" y="392.5" width="1.2" height="1.8"/><rect x="79.6" y="391.8" width="1.2" height="1.8"/><rect x="75.5" y="410.0" width="1.2" height="1.8"/><rect x="73.7" y="410.1" width="1.2" height="1.8"/><rect x="81.3" y="413.0" width="1.2" height="1.8"/><rect x="78.4" y="412.4" width="1.2" height="1.8"/><rect x="78.0" y="407.5" width="1.2" height="1.8"/><rect x="79.4" y="410.1" width="1.2" height="1.8"/><rect x="80.8" y="415.2" width="1.2" height="1.8"/><rect x="77.7" y="411.8" width="1.2" height="1.8"/><rect x="80.9" y="410.3" width="1.2" height="1.8"/><rect x="75.7" y="413.3" width="1.2" height="1.8"/><rect x="82.2" y="413.8" width="1.2" height="1.8"/><rect x="80.4" y="414.6" width="1.2" height="1.8"/><rect x="80.2" y="412.5" width="1.2" height="1.8"/><rect x="77.9" y="409.2" width="1.2" height="1.8"/><rect x="79.7" y="407.1" width="1.2" height="1.8"/><rect x="77.6" y="413.9" width="1.2" height="1.8"/><rect x="80.5" y="412.4" width="1.2" height="1.8"/><rect x="75.9" y="410.3" width="1.2" height="1.8"/><rect x="78.0" y="412.3" width="1.2" height="1.8"/><rect x="77.5" y="412.9" width="1.2" height="1.8"/><rect x="82.7" y="407.9" width="1.2" height="1.8"/><rect x="79.9" y="413.9" width="1.2" height="1.8"/><rect x="77.3" y="411.0" width="1.2" height="1.8"/><rect x="83.1" y="406.5" width="1.2" height="1.8"/><rect x="78.8" y="407.7" width="1.2" height="1.8"/><rect x="81.2" y="415.5" width="1.2" height="1.8"/><rect x="78.6" y="407.1" width="1.2" height="1.8"/><rect x="79.1" y="411.5" width="1.2" height="1.8"/><rect x="80.6" y="411.2" width="1.2" height="1.8"/><rect x="79.8" y="414.4" width="1.2" height="1.8"/><rect x="78.6" y="410.2" width="1.2" height="1.8"/><rect x="82.9" y="408.2" width="1.2" height="1.8"/><rect x="80.2" y="410.0" width="1.2" height="1.8"/><rect x="81.0" y="407.3" width="1.2" height="1.8"/><rect x="83.2" y="409.7" width="1.2" height="1.8"/><rect x="74.0" y="408.8" width="1.2" height="1.8"/><rect x="77.4" y="406.2" width="1.2" height="1.8"/><rect x="77.6" y="410.3" width="1.2" height="1.8"/><rect x="80.4" y="409.6" width="1.2" height="1.8"/><rect x="76.1" y="408.3" width="1.2" height="1.8"/><rect x="80.8" y="415.5" width="1.2" height="1.8"/><rect x="78.7" y="408.3" width="1.2" height="1.8"/><rect x="81.4" y="410.0" width="1.2" height="1.8"/><rect x="75.5" y="407.4" width="1.2" height="1.8"/><rect x="81.2" y="414.2" width="1.2" height="1.8"/><rect x="79.7" y="410.8" width="1.2" height="1.8"/><rect x="79.0" y="408.4" width="1.2" height="1.8"/><rect x="83.0" y="409.6" width="1.2" height="1.8"/><rect x="79.8" y="414.3" width="1.2" height="1.8"/><rect x="81.6" y="410.8" width="1.2" height="1.8"/><rect x="76.3" y="411.6" width="1.2" height="1.8"/><rect x="74.7" y="414.4" width="1.2" height="1.8"/><rect x="76.9" y="414.6" width="1.2" height="1.8"/><rect x="76.1" y="409.9" width="1.2" height="1.8"/><rect x="75.9" y="410.4" width="1.2" height="1.8"/><rect x="75.3" y="406.1" width="1.2" height="1.8"/><rect x="80.6" y="408.9" width="1.2" height="1.8"/><rect x="75.8" y="409.1" width="1.2" height="1.8"/><rect x="78.2" y="410.4" width="1.2" height="1.8"/><rect x="79.8" y="412.7" width="1.2" height="1.8"/><rect x="62.1" y="399.5" width="1.2" height="1.8"/><rect x="63.1" y="392.6" width="1.2" height="1.8"/><rect x="63.1" y="399.3" width="1.2" height="1.8"/><rect x="66.2" y="389.9" width="1.2" height="1.8"/><rect x="66.2" y="392.9" width="1.2" height="1.8"/><rect x="100.4" y="394.2" width="1.2" height="1.8"/><rect x="163.2" y="398.4" width="1.2" height="1.8"/><rect x="116.2" y="394.8" width="1.2" height="1.8"/><rect x="109.0" y="395.6" width="1.2" height="1.8"/><rect x="151.4" y="396.4" width="1.2" height="1.8"/><rect x="109.6" y="400.0" width="1.2" height="1.8"/><rect x="152.4" y="395.2" width="1.2" height="1.8"/><rect x="159.1" y="398.1" width="1.2" height="1.8"/><rect x="151.7" y="398.4" width="1.2" height="1.8"/><rect x="159.3" y="399.2" width="1.2" height="1.8"/><rect x="155.6" y="395.4" width="1.2" height="1.8"/><rect x="145.8" y="397.6" width="1.2" height="1.8"/><rect x="149.1" y="397.0" width="1.2" height="1.8"/><rect x="158.5" y="397.7" width="1.2" height="1.8"/><rect x="117.1" y="395.6" width="1.2" height="1.8"/><rect x="108.7" y="397.3" width="1.2" height="1.8"/><rect x="103.3" y="397.1" width="1.2" height="1.8"/><rect x="109.1" y="397.3" width="1.2" height="1.8"/><rect x="132.8" y="397.6" width="1.2" height="1.8"/><rect x="157.2" y="394.1" width="1.2" height="1.8"/><rect x="155.7" y="397.1" width="1.2" height="1.8"/><rect x="137.1" y="398.4" width="1.2" height="1.8"/><rect x="155.7" y="396.5" width="1.2" height="1.8"/><rect x="127.5" y="400.3" width="1.2" height="1.8"/><rect x="104.5" y="398.2" width="1.2" height="1.8"/><rect x="142.0" y="394.3" width="1.2" height="1.8"/><rect x="140.2" y="398.5" width="1.2" height="1.8"/><rect x="161.8" y="396.2" width="1.2" height="1.8"/><rect x="165.2" y="397.4" width="1.2" height="1.8"/><rect x="131.9" y="399.9" width="1.2" height="1.8"/><rect x="101.7" y="398.8" width="1.2" height="1.8"/><rect x="141.3" y="396.3" width="1.2" height="1.8"/><rect x="157.1" y="396.5" width="1.2" height="1.8"/><rect x="131.2" y="397.5" width="1.2" height="1.8"/><rect x="151.0" y="395.5" width="1.2" height="1.8"/><rect x="128.6" y="396.8" width="1.2" height="1.8"/><rect x="136.5" y="399.5" width="1.2" height="1.8"/><rect x="119.0" y="399.5" width="1.2" height="1.8"/><rect x="126.4" y="397.4" width="1.2" height="1.8"/><rect x="117.6" y="397.4" width="1.2" height="1.8"/><rect x="164.7" y="398.4" width="1.2" height="1.8"/><rect x="152.5" y="396.3" width="1.2" height="1.8"/><rect x="120.6" y="396.0" width="1.2" height="1.8"/><rect x="138.7" y="398.2" width="1.2" height="1.8"/><rect x="151.9" y="394.4" width="1.2" height="1.8"/><rect x="147.8" y="399.9" width="1.2" height="1.8"/><rect x="135.9" y="394.4" width="1.2" height="1.8"/><rect x="119.5" y="394.1" width="1.2" height="1.8"/><rect x="112.1" y="400.1" width="1.2" height="1.8"/><rect x="140.2" y="398.4" width="1.2" height="1.8"/><rect x="152.3" y="393.6" width="1.2" height="1.8"/><rect x="140.4" y="392.2" width="1.2" height="1.8"/><rect x="141.4" y="392.6" width="1.2" height="1.8"/><rect x="139.4" y="392.5" width="1.2" height="1.8"/><rect x="113.6" y="392.4" width="1.2" height="1.8"/><rect x="130.1" y="392.9" width="1.2" height="1.8"/><rect x="106.2" y="390.0" width="1.2" height="1.8"/><rect x="101.9" y="393.0" width="1.2" height="1.8"/><rect x="160.6" y="409.8" width="1.2" height="1.8"/><rect x="154.5" y="411.5" width="1.2" height="1.8"/><rect x="152.1" y="411.4" width="1.2" height="1.8"/><rect x="119.6" y="408.4" width="1.2" height="1.8"/><rect x="127.7" y="409.2" width="1.2" height="1.8"/><rect x="142.4" y="412.9" width="1.2" height="1.8"/><rect x="162.0" y="412.3" width="1.2" height="1.8"/><rect x="102.0" y="408.7" width="1.2" height="1.8"/><rect x="107.4" y="408.9" width="1.2" height="1.8"/><rect x="160.9" y="412.4" width="1.2" height="1.8"/><rect x="129.3" y="411.2" width="1.2" height="1.8"/><rect x="139.1" y="408.1" width="1.2" height="1.8"/><rect x="162.2" y="411.9" width="1.2" height="1.8"/><rect x="127.0" y="408.1" width="1.2" height="1.8"/><rect x="106.2" y="408.7" width="1.2" height="1.8"/><rect x="109.6" y="409.0" width="1.2" height="1.8"/><rect x="100.4" y="411.3" width="1.2" height="1.8"/><rect x="107.6" y="407.8" width="1.2" height="1.8"/><rect x="164.1" y="413.6" width="1.2" height="1.8"/><rect x="108.0" y="410.2" width="1.2" height="1.8"/><rect x="100.6" y="408.0" width="1.2" height="1.8"/><rect x="148.5" y="411.9" width="1.2" height="1.8"/><rect x="112.0" y="411.6" width="1.2" height="1.8"/><rect x="147.2" y="410.8" width="1.2" height="1.8"/><rect x="156.7" y="407.9" width="1.2" height="1.8"/><rect x="141.5" y="409.9" width="1.2" height="1.8"/><rect x="146.9" y="421.0" width="1.2" height="1.8"/><rect x="116.4" y="409.1" width="1.2" height="1.8"/><rect x="164.0" y="407.8" width="1.2" height="1.8"/><rect x="100.4" y="408.1" width="1.2" height="1.8"/><rect x="143.0" y="408.6" width="1.2" height="1.8"/><rect x="120.2" y="408.6" width="1.2" height="1.8"/><rect x="148.3" y="413.4" width="1.2" height="1.8"/><rect x="132.0" y="414.4" width="1.2" height="1.8"/><rect x="103.4" y="409.8" width="1.2" height="1.8"/><rect x="128.8" y="411.1" width="1.2" height="1.8"/><rect x="144.8" y="414.0" width="1.2" height="1.8"/><rect x="123.7" y="411.6" width="1.2" height="1.8"/><rect x="142.6" y="411.6" width="1.2" height="1.8"/><rect x="125.2" y="409.9" width="1.2" height="1.8"/><rect x="152.1" y="416.2" width="1.2" height="1.8"/><rect x="137.4" y="410.5" width="1.2" height="1.8"/><rect x="119.0" y="413.7" width="1.2" height="1.8"/><rect x="146.5" y="413.7" width="1.2" height="1.8"/><rect x="154.8" y="410.9" width="1.2" height="1.8"/><rect x="164.9" y="411.7" width="1.2" height="1.8"/><rect x="155.1" y="411.0" width="1.2" height="1.8"/><rect x="128.1" y="409.4" width="1.2" height="1.8"/><rect x="158.9" y="412.3" width="1.2" height="1.8"/><rect x="139.7" y="413.1" width="1.2" height="1.8"/><rect x="159.4" y="408.9" width="1.2" height="1.8"/><rect x="99.5" y="409.5" width="1.2" height="1.8"/><rect x="117.0" y="410.5" width="1.2" height="1.8"/><rect x="154.1" y="410.7" width="1.2" height="1.8"/><rect x="158.9" y="415.4" width="1.2" height="1.8"/><rect x="153.8" y="410.2" width="1.2" height="1.8"/><rect x="157.5" y="410.9" width="1.2" height="1.8"/><rect x="156.4" y="409.3" width="1.2" height="1.8"/><rect x="153.5" y="412.1" width="1.2" height="1.8"/><rect x="122.6" y="412.9" width="1.2" height="1.8"/><rect x="105.1" y="411.7" width="1.2" height="1.8"/><rect x="112.8" y="409.1" width="1.2" height="1.8"/><rect x="149.7" y="411.4" width="1.2" height="1.8"/><rect x="140.1" y="409.2" width="1.2" height="1.8"/><rect x="144.8" y="411.5" width="1.2" height="1.8"/><rect x="116.5" y="408.1" width="1.2" height="1.8"/><rect x="149.7" y="409.3" width="1.2" height="1.8"/><rect x="105.3" y="410.3" width="1.2" height="1.8"/><rect x="153.4" y="408.2" width="1.2" height="1.8"/><rect x="138.2" y="411.2" width="1.2" height="1.8"/><rect x="159.5" y="411.5" width="1.2" height="1.8"/><rect x="131.3" y="410.8" width="1.2" height="1.8"/><rect x="138.9" y="408.9" width="1.2" height="1.8"/><rect x="111.5" y="409.2" width="1.2" height="1.8"/><rect x="146.4" y="412.7" width="1.2" height="1.8"/><rect x="126.4" y="410.7" width="1.2" height="1.8"/><rect x="134.1" y="408.5" width="1.2" height="1.8"/><rect x="166.2" y="408.5" width="1.2" height="1.8"/><rect x="124.5" y="410.9" width="1.2" height="1.8"/><rect x="152.2" y="412.2" width="1.2" height="1.8"/><rect x="109.9" y="409.5" width="1.2" height="1.8"/><rect x="134.2" y="409.9" width="1.2" height="1.8"/><rect x="100.8" y="414.9" width="1.2" height="1.8"/><rect x="157.4" y="410.5" width="1.2" height="1.8"/><rect x="132.0" y="410.5" width="1.2" height="1.8"/><rect x="151.6" y="409.4" width="1.2" height="1.8"/><rect x="127.9" y="413.1" width="1.2" height="1.8"/><rect x="154.3" y="410.4" width="1.2" height="1.8"/><rect x="164.0" y="407.7" width="1.2" height="1.8"/><rect x="112.9" y="408.4" width="1.2" height="1.8"/><rect x="111.5" y="408.4" width="1.2" height="1.8"/><rect x="136.7" y="408.4" width="1.2" height="1.8"/><rect x="157.7" y="417.9" width="1.2" height="1.8"/><rect x="160.4" y="410.2" width="1.2" height="1.8"/><rect x="103.7" y="409.7" width="1.2" height="1.8"/><rect x="107.4" y="409.1" width="1.2" height="1.8"/><rect x="163.7" y="407.9" width="1.2" height="1.8"/><rect x="142.3" y="414.7" width="1.2" height="1.8"/><rect x="163.5" y="409.4" width="1.2" height="1.8"/><rect x="129.4" y="410.8" width="1.2" height="1.8"/><rect x="110.1" y="415.0" width="1.2" height="1.8"/><rect x="114.3" y="409.3" width="1.2" height="1.8"/><rect x="102.0" y="407.8" width="1.2" height="1.8"/><rect x="159.9" y="411.5" width="1.2" height="1.8"/><rect x="160.0" y="408.4" width="1.2" height="1.8"/><rect x="152.1" y="409.1" width="1.2" height="1.8"/><rect x="146.9" y="418.1" width="1.2" height="1.8"/><rect x="103.1" y="413.3" width="1.2" height="1.8"/><rect x="109.1" y="407.9" width="1.2" height="1.8"/><rect x="144.8" y="421.3" width="1.2" height="1.8"/><rect x="119.4" y="411.1" width="1.2" height="1.8"/><rect x="106.5" y="409.9" width="1.2" height="1.8"/><rect x="121.1" y="407.8" width="1.2" height="1.8"/><rect x="131.6" y="409.7" width="1.2" height="1.8"/><rect x="110.7" y="407.8" width="1.2" height="1.8"/><rect x="144.8" y="410.9" width="1.2" height="1.8"/><rect x="100.2" y="408.0" width="1.2" height="1.8"/><rect x="101.8" y="409.2" width="1.2" height="1.8"/><rect x="161.6" y="409.3" width="1.2" height="1.8"/><rect x="157.5" y="417.8" width="1.2" height="1.8"/><rect x="158.9" y="410.6" width="1.2" height="1.8"/><rect x="105.9" y="409.7" width="1.2" height="1.8"/><rect x="161.6" y="410.6" width="1.2" height="1.8"/><rect x="129.7" y="411.9" width="1.2" height="1.8"/><rect x="122.2" y="409.0" width="1.2" height="1.8"/><rect x="141.5" y="413.1" width="1.2" height="1.8"/><rect x="109.0" y="407.8" width="1.2" height="1.8"/><rect x="147.2" y="409.7" width="1.2" height="1.8"/><rect x="136.5" y="413.4" width="1.2" height="1.8"/><rect x="117.2" y="411.5" width="1.2" height="1.8"/><rect x="127.0" y="409.1" width="1.2" height="1.8"/><rect x="155.7" y="410.8" width="1.2" height="1.8"/><rect x="121.8" y="409.1" width="1.2" height="1.8"/><rect x="120.7" y="410.1" width="1.2" height="1.8"/><rect x="159.9" y="416.2" width="1.2" height="1.8"/><rect x="103.2" y="412.1" width="1.2" height="1.8"/><rect x="159.4" y="409.1" width="1.2" height="1.8"/><rect x="131.4" y="410.0" width="1.2" height="1.8"/><rect x="118.6" y="407.8" width="1.2" height="1.8"/><rect x="123.8" y="409.5" width="1.2" height="1.8"/><rect x="165.8" y="415.0" width="1.2" height="1.8"/><rect x="105.9" y="407.8" width="1.2" height="1.8"/><rect x="118.8" y="408.4" width="1.2" height="1.8"/><rect x="148.1" y="408.9" width="1.2" height="1.8"/><rect x="119.1" y="408.1" width="1.2" height="1.8"/><rect x="153.5" y="407.8" width="1.2" height="1.8"/><rect x="122.2" y="407.8" width="1.2" height="1.8"/><rect x="155.2" y="407.9" width="1.2" height="1.8"/><rect x="134.7" y="409.5" width="1.2" height="1.8"/><rect x="160.5" y="411.6" width="1.2" height="1.8"/><rect x="114.0" y="408.9" width="1.2" height="1.8"/><rect x="111.5" y="408.3" width="1.2" height="1.8"/><rect x="151.0" y="408.5" width="1.2" height="1.8"/><rect x="104.7" y="409.2" width="1.2" height="1.8"/><rect x="105.3" y="409.9" width="1.2" height="1.8"/><rect x="117.8" y="409.5" width="1.2" height="1.8"/><rect x="113.2" y="410.6" width="1.2" height="1.8"/><rect x="153.8" y="412.7" width="1.2" height="1.8"/><rect x="138.5" y="408.2" width="1.2" height="1.8"/><rect x="148.5" y="409.7" width="1.2" height="1.8"/><rect x="126.7" y="407.9" width="1.2" height="1.8"/><rect x="153.7" y="409.3" width="1.2" height="1.8"/><rect x="121.9" y="410.4" width="1.2" height="1.8"/><rect x="132.4" y="414.4" width="1.2" height="1.8"/><rect x="100.4" y="410.0" width="1.2" height="1.8"/><rect x="157.8" y="410.3" width="1.2" height="1.8"/><rect x="117.2" y="409.5" width="1.2" height="1.8"/><rect x="124.0" y="412.5" width="1.2" height="1.8"/><rect x="110.4" y="409.9" width="1.2" height="1.8"/><rect x="99.7" y="410.0" width="1.2" height="1.8"/><rect x="134.2" y="412.5" width="1.2" height="1.8"/><rect x="107.5" y="408.7" width="1.2" height="1.8"/><rect x="147.3" y="412.5" width="1.2" height="1.8"/><rect x="120.9" y="412.1" width="1.2" height="1.8"/><rect x="147.0" y="414.9" width="1.2" height="1.8"/><rect x="103.5" y="410.4" width="1.2" height="1.8"/><rect x="157.9" y="412.6" width="1.2" height="1.8"/><rect x="133.8" y="409.1" width="1.2" height="1.8"/><rect x="134.9" y="408.6" width="1.2" height="1.8"/><rect x="164.2" y="407.9" width="1.2" height="1.8"/><rect x="114.4" y="408.2" width="1.2" height="1.8"/><rect x="116.2" y="408.7" width="1.2" height="1.8"/><rect x="154.1" y="409.9" width="1.2" height="1.8"/><rect x="146.2" y="408.2" width="1.2" height="1.8"/><rect x="112.5" y="410.9" width="1.2" height="1.8"/><rect x="138.0" y="408.4" width="1.2" height="1.8"/><rect x="134.4" y="408.3" width="1.2" height="1.8"/><rect x="157.7" y="409.7" width="1.2" height="1.8"/><rect x="147.4" y="410.6" width="1.2" height="1.8"/><rect x="132.5" y="408.3" width="1.2" height="1.8"/><rect x="133.0" y="408.1" width="1.2" height="1.8"/><rect x="126.6" y="409.3" width="1.2" height="1.8"/><rect x="108.6" y="411.7" width="1.2" height="1.8"/><rect x="109.3" y="410.3" width="1.2" height="1.8"/><rect x="137.8" y="407.8" width="1.2" height="1.8"/><rect x="154.7" y="410.6" width="1.2" height="1.8"/><rect x="162.2" y="410.7" width="1.2" height="1.8"/><rect x="155.7" y="410.8" width="1.2" height="1.8"/><rect x="134.6" y="415.8" width="1.2" height="1.8"/><rect x="151.5" y="415.4" width="1.2" height="1.8"/><rect x="122.1" y="407.8" width="1.2" height="1.8"/><rect x="128.6" y="410.8" width="1.2" height="1.8"/><rect x="165.1" y="410.1" width="1.2" height="1.8"/><rect x="154.0" y="417.9" width="1.2" height="1.8"/><rect x="156.2" y="412.9" width="1.2" height="1.8"/><rect x="163.6" y="409.1" width="1.2" height="1.8"/><rect x="162.0" y="407.7" width="1.2" height="1.8"/><rect x="141.8" y="413.3" width="1.2" height="1.8"/><rect x="123.8" y="408.7" width="1.2" height="1.8"/><rect x="128.4" y="407.9" width="1.2" height="1.8"/><rect x="133.2" y="409.9" width="1.2" height="1.8"/><rect x="164.4" y="407.9" width="1.2" height="1.8"/><rect x="151.4" y="414.6" width="1.2" height="1.8"/><rect x="153.6" y="410.4" width="1.2" height="1.8"/><rect x="158.7" y="408.5" width="1.2" height="1.8"/><rect x="142.4" y="408.7" width="1.2" height="1.8"/><rect x="117.2" y="408.5" width="1.2" height="1.8"/><rect x="135.7" y="410.9" width="1.2" height="1.8"/><rect x="161.3" y="409.8" width="1.2" height="1.8"/><rect x="134.3" y="409.9" width="1.2" height="1.8"/><rect x="128.5" y="410.4" width="1.2" height="1.8"/><rect x="119.9" y="408.3" width="1.2" height="1.8"/><rect x="142.8" y="413.1" width="1.2" height="1.8"/><rect x="163.5" y="411.0" width="1.2" height="1.8"/><rect x="133.8" y="408.2" width="1.2" height="1.8"/><rect x="135.2" y="412.6" width="1.2" height="1.8"/><rect x="109.3" y="408.6" width="1.2" height="1.8"/><rect x="119.1" y="408.6" width="1.2" height="1.8"/><rect x="126.6" y="408.3" width="1.2" height="1.8"/><rect x="105.3" y="409.4" width="1.2" height="1.8"/><rect x="140.0" y="410.5" width="1.2" height="1.8"/><rect x="143.6" y="409.6" width="1.2" height="1.8"/><rect x="145.8" y="408.3" width="1.2" height="1.8"/><rect x="149.2" y="409.2" width="1.2" height="1.8"/><rect x="140.1" y="409.7" width="1.2" height="1.8"/><rect x="135.7" y="408.7" width="1.2" height="1.8"/><rect x="123.0" y="408.4" width="1.2" height="1.8"/><rect x="138.1" y="408.9" width="1.2" height="1.8"/><rect x="142.2" y="407.6" width="1.2" height="1.8"/><rect x="129.1" y="410.6" width="1.2" height="1.8"/><rect x="122.8" y="409.5" width="1.2" height="1.8"/><rect x="136.9" y="408.6" width="1.2" height="1.8"/><rect x="164.7" y="408.6" width="1.2" height="1.8"/><rect x="152.6" y="408.2" width="1.2" height="1.8"/><rect x="113.1" y="410.6" width="1.2" height="1.8"/><rect x="134.0" y="407.8" width="1.2" height="1.8"/><rect x="131.1" y="409.1" width="1.2" height="1.8"/><rect x="150.6" y="408.0" width="1.2" height="1.8"/><rect x="122.0" y="411.0" width="1.2" height="1.8"/><rect x="150.8" y="408.1" width="1.2" height="1.8"/><rect x="128.3" y="408.8" width="1.2" height="1.8"/><rect x="147.2" y="409.8" width="1.2" height="1.8"/><rect x="157.0" y="410.5" width="1.2" height="1.8"/><rect x="138.4" y="410.2" width="1.2" height="1.8"/><rect x="151.0" y="410.3" width="1.2" height="1.8"/><rect x="136.0" y="410.3" width="1.2" height="1.8"/><rect x="149.1" y="410.8" width="1.2" height="1.8"/><rect x="116.5" y="410.6" width="1.2" height="1.8"/><rect x="109.6" y="410.3" width="1.2" height="1.8"/><rect x="142.2" y="409.3" width="1.2" height="1.8"/><rect x="163.3" y="409.6" width="1.2" height="1.8"/><rect x="132.8" y="410.3" width="1.2" height="1.8"/><rect x="158.3" y="409.7" width="1.2" height="1.8"/><rect x="130.7" y="409.2" width="1.2" height="1.8"/><rect x="135.0" y="410.1" width="1.2" height="1.8"/><rect x="125.8" y="409.0" width="1.2" height="1.8"/><rect x="140.5" y="408.9" width="1.2" height="1.8"/><rect x="127.4" y="410.4" width="1.2" height="1.8"/><rect x="157.0" y="409.3" width="1.2" height="1.8"/><rect x="134.3" y="408.2" width="1.2" height="1.8"/><rect x="126.4" y="408.1" width="1.2" height="1.8"/><rect x="141.6" y="409.6" width="1.2" height="1.8"/><rect x="114.3" y="410.8" width="1.2" height="1.8"/><rect x="127.5" y="410.6" width="1.2" height="1.8"/><rect x="156.3" y="411.0" width="1.2" height="1.8"/><rect x="120.8" y="409.1" width="1.2" height="1.8"/><rect x="160.4" y="407.6" width="1.2" height="1.8"/><rect x="112.1" y="409.6" width="1.2" height="1.8"/><rect x="137.3" y="410.8" width="1.2" height="1.8"/><rect x="152.7" y="409.5" width="1.2" height="1.8"/><rect x="165.3" y="409.4" width="1.2" height="1.8"/><rect x="138.4" y="410.0" width="1.2" height="1.8"/><rect x="131.2" y="408.9" width="1.2" height="1.8"/><rect x="142.7" y="408.8" width="1.2" height="1.8"/><rect x="162.5" y="410.0" width="1.2" height="1.8"/><rect x="138.8" y="407.9" width="1.2" height="1.8"/><rect x="130.4" y="409.0" width="1.2" height="1.8"/><rect x="140.8" y="409.6" width="1.2" height="1.8"/><rect x="158.7" y="411.0" width="1.2" height="1.8"/><rect x="136.7" y="409.1" width="1.2" height="1.8"/><rect x="210.8" y="400.6" width="1.2" height="1.8"/><rect x="192.4" y="397.5" width="1.2" height="1.8"/><rect x="223.3" y="395.2" width="1.2" height="1.8"/><rect x="190.7" y="400.5" width="1.2" height="1.8"/><rect x="224.0" y="397.4" width="1.2" height="1.8"/><rect x="177.1" y="399.9" width="1.2" height="1.8"/><rect x="215.1" y="399.4" width="1.2" height="1.8"/><rect x="234.8" y="399.9" width="1.2" height="1.8"/><rect x="197.5" y="395.1" width="1.2" height="1.8"/><rect x="188.9" y="397.4" width="1.2" height="1.8"/><rect x="203.0" y="395.3" width="1.2" height="1.8"/><rect x="181.8" y="398.2" width="1.2" height="1.8"/><rect x="209.4" y="396.4" width="1.2" height="1.8"/><rect x="235.0" y="398.2" width="1.2" height="1.8"/><rect x="172.7" y="396.8" width="1.2" height="1.8"/><rect x="221.5" y="396.1" width="1.2" height="1.8"/><rect x="215.1" y="394.1" width="1.2" height="1.8"/><rect x="189.8" y="399.6" width="1.2" height="1.8"/><rect x="208.3" y="398.4" width="1.2" height="1.8"/><rect x="182.8" y="397.3" width="1.2" height="1.8"/><rect x="206.1" y="395.8" width="1.2" height="1.8"/><rect x="212.3" y="397.6" width="1.2" height="1.8"/><rect x="235.2" y="397.8" width="1.2" height="1.8"/><rect x="196.8" y="394.9" width="1.2" height="1.8"/><rect x="180.2" y="399.0" width="1.2" height="1.8"/><rect x="176.9" y="394.8" width="1.2" height="1.8"/><rect x="181.1" y="397.5" width="1.2" height="1.8"/><rect x="223.8" y="398.1" width="1.2" height="1.8"/><rect x="222.7" y="394.5" width="1.2" height="1.8"/><rect x="170.7" y="399.1" width="1.2" height="1.8"/><rect x="191.0" y="398.8" width="1.2" height="1.8"/><rect x="193.1" y="395.2" width="1.2" height="1.8"/><rect x="187.4" y="394.7" width="1.2" height="1.8"/><rect x="229.1" y="397.9" width="1.2" height="1.8"/><rect x="192.8" y="397.0" width="1.2" height="1.8"/><rect x="195.2" y="394.5" width="1.2" height="1.8"/><rect x="228.2" y="397.9" width="1.2" height="1.8"/><rect x="232.8" y="397.0" width="1.2" height="1.8"/><rect x="210.5" y="395.7" width="1.2" height="1.8"/><rect x="172.8" y="400.2" width="1.2" height="1.8"/><rect x="225.9" y="396.1" width="1.2" height="1.8"/><rect x="228.8" y="399.4" width="1.2" height="1.8"/><rect x="189.8" y="398.0" width="1.2" height="1.8"/><rect x="232.8" y="397.3" width="1.2" height="1.8"/><rect x="232.1" y="395.7" width="1.2" height="1.8"/><rect x="195.4" y="412.1" width="1.2" height="1.8"/><rect x="184.4" y="409.3" width="1.2" height="1.8"/><rect x="227.2" y="410.5" width="1.2" height="1.8"/><rect x="221.8" y="408.8" width="1.2" height="1.8"/><rect x="181.3" y="409.6" width="1.2" height="1.8"/><rect x="182.1" y="413.9" width="1.2" height="1.8"/><rect x="188.9" y="411.0" width="1.2" height="1.8"/><rect x="177.4" y="410.8" width="1.2" height="1.8"/><rect x="195.2" y="409.9" width="1.2" height="1.8"/><rect x="174.2" y="408.0" width="1.2" height="1.8"/><rect x="224.0" y="409.6" width="1.2" height="1.8"/><rect x="185.9" y="408.4" width="1.2" height="1.8"/><rect x="188.5" y="408.8" width="1.2" height="1.8"/><rect x="172.2" y="411.7" width="1.2" height="1.8"/><rect x="192.3" y="408.2" width="1.2" height="1.8"/><rect x="216.1" y="407.7" width="1.2" height="1.8"/><rect x="187.6" y="412.9" width="1.2" height="1.8"/><rect x="178.3" y="410.2" width="1.2" height="1.8"/><rect x="224.7" y="412.7" width="1.2" height="1.8"/><rect x="180.3" y="409.6" width="1.2" height="1.8"/><rect x="217.2" y="409.7" width="1.2" height="1.8"/><rect x="232.7" y="408.6" width="1.2" height="1.8"/><rect x="232.2" y="410.6" width="1.2" height="1.8"/><rect x="184.8" y="410.3" width="1.2" height="1.8"/><rect x="178.5" y="412.0" width="1.2" height="1.8"/><rect x="187.0" y="413.4" width="1.2" height="1.8"/><rect x="208.4" y="409.7" width="1.2" height="1.8"/><rect x="186.0" y="411.4" width="1.2" height="1.8"/><rect x="183.8" y="413.2" width="1.2" height="1.8"/><rect x="177.9" y="410.7" width="1.2" height="1.8"/><rect x="205.4" y="409.0" width="1.2" height="1.8"/><rect x="220.4" y="409.8" width="1.2" height="1.8"/><rect x="213.0" y="411.1" width="1.2" height="1.8"/><rect x="190.3" y="409.8" width="1.2" height="1.8"/><rect x="175.5" y="408.3" width="1.2" height="1.8"/><rect x="225.6" y="409.3" width="1.2" height="1.8"/><rect x="213.3" y="407.9" width="1.2" height="1.8"/><rect x="206.7" y="409.6" width="1.2" height="1.8"/><rect x="202.7" y="409.2" width="1.2" height="1.8"/><rect x="174.2" y="409.3" width="1.2" height="1.8"/><rect x="184.7" y="408.0" width="1.2" height="1.8"/><rect x="216.8" y="409.1" width="1.2" height="1.8"/><rect x="196.3" y="413.5" width="1.2" height="1.8"/><rect x="220.7" y="413.3" width="1.2" height="1.8"/><rect x="226.3" y="408.0" width="1.2" height="1.8"/><rect x="188.0" y="407.3" width="1.2" height="1.8"/><rect x="214.4" y="411.7" width="1.2" height="1.8"/><rect x="192.9" y="410.0" width="1.2" height="1.8"/><rect x="213.1" y="412.0" width="1.2" height="1.8"/><rect x="186.2" y="413.0" width="1.2" height="1.8"/><rect x="193.0" y="411.5" width="1.2" height="1.8"/><rect x="181.8" y="407.9" width="1.2" height="1.8"/><rect x="229.7" y="412.2" width="1.2" height="1.8"/><rect x="216.6" y="407.4" width="1.2" height="1.8"/><rect x="172.5" y="408.2" width="1.2" height="1.8"/><rect x="182.9" y="409.2" width="1.2" height="1.8"/><rect x="194.8" y="407.4" width="1.2" height="1.8"/><rect x="190.3" y="411.6" width="1.2" height="1.8"/><rect x="181.7" y="413.0" width="1.2" height="1.8"/><rect x="207.2" y="412.1" width="1.2" height="1.8"/><rect x="182.4" y="414.7" width="1.2" height="1.8"/><rect x="200.8" y="414.2" width="1.2" height="1.8"/><rect x="171.4" y="417.1" width="1.2" height="1.8"/><rect x="204.8" y="413.8" width="1.2" height="1.8"/><rect x="173.2" y="417.2" width="1.2" height="1.8"/><rect x="197.5" y="412.4" width="1.2" height="1.8"/><rect x="181.9" y="412.8" width="1.2" height="1.8"/><rect x="205.4" y="413.4" width="1.2" height="1.8"/><rect x="210.7" y="416.6" width="1.2" height="1.8"/><rect x="175.1" y="416.3" width="1.2" height="1.8"/><rect x="188.3" y="416.6" width="1.2" height="1.8"/><rect x="207.0" y="413.8" width="1.2" height="1.8"/><rect x="200.7" y="393.7" width="1.2" height="1.8"/><rect x="205.8" y="393.6" width="1.2" height="1.8"/><rect x="209.8" y="392.3" width="1.2" height="1.8"/><rect x="64.2" y="357.7" width="1.2" height="1.8"/><rect x="61.6" y="337.1" width="1.2" height="1.8"/><rect x="63.3" y="350.5" width="1.2" height="1.8"/><rect x="62.0" y="368.5" width="1.2" height="1.8"/><rect x="59.3" y="362.5" width="1.2" height="1.8"/><rect x="58.7" y="360.4" width="1.2" height="1.8"/><rect x="64.0" y="344.5" width="1.2" height="1.8"/><rect x="62.2" y="370.0" width="1.2" height="1.8"/><rect x="62.9" y="354.7" width="1.2" height="1.8"/><rect x="60.1" y="337.2" width="1.2" height="1.8"/><rect x="60.9" y="349.9" width="1.2" height="1.8"/><rect x="59.8" y="346.3" width="1.2" height="1.8"/><rect x="59.4" y="360.6" width="1.2" height="1.8"/><rect x="63.1" y="343.7" width="1.2" height="1.8"/><rect x="69.3" y="355.6" width="1.2" height="1.8"/><rect x="71.0" y="369.0" width="1.2" height="1.8"/><rect x="70.2" y="348.7" width="1.2" height="1.8"/><rect x="74.5" y="343.6" width="1.2" height="1.8"/><rect x="71.9" y="349.8" width="1.2" height="1.8"/><rect x="73.9" y="356.6" width="1.2" height="1.8"/><rect x="73.5" y="344.5" width="1.2" height="1.8"/><rect x="72.7" y="358.3" width="1.2" height="1.8"/><rect x="71.1" y="363.6" width="1.2" height="1.8"/><rect x="74.0" y="342.8" width="1.2" height="1.8"/><rect x="69.7" y="350.6" width="1.2" height="1.8"/><rect x="69.1" y="341.0" width="1.2" height="1.8"/><rect x="85.6" y="344.6" width="1.2" height="1.8"/><rect x="91.9" y="351.6" width="1.2" height="1.8"/><rect x="83.1" y="348.2" width="1.2" height="1.8"/><rect x="88.4" y="349.3" width="1.2" height="1.8"/><rect x="83.9" y="341.1" width="1.2" height="1.8"/><rect x="81.6" y="366.9" width="1.2" height="1.8"/><rect x="92.7" y="341.5" width="1.2" height="1.8"/><rect x="92.2" y="366.5" width="1.2" height="1.8"/><rect x="89.9" y="342.1" width="1.2" height="1.8"/><rect x="88.7" y="351.3" width="1.2" height="1.8"/><rect x="84.2" y="354.3" width="1.2" height="1.8"/><rect x="81.5" y="364.8" width="1.2" height="1.8"/><rect x="91.1" y="356.7" width="1.2" height="1.8"/><rect x="95.4" y="357.4" width="1.2" height="1.8"/><rect x="85.2" y="346.0" width="1.2" height="1.8"/><rect x="83.5" y="339.9" width="1.2" height="1.8"/><rect x="93.0" y="362.6" width="1.2" height="1.8"/><rect x="85.8" y="344.3" width="1.2" height="1.8"/><rect x="91.0" y="362.8" width="1.2" height="1.8"/><rect x="95.3" y="343.8" width="1.2" height="1.8"/><rect x="93.2" y="362.4" width="1.2" height="1.8"/><rect x="92.5" y="348.2" width="1.2" height="1.8"/><rect x="84.2" y="362.2" width="1.2" height="1.8"/><rect x="86.2" y="349.4" width="1.2" height="1.8"/><rect x="89.7" y="349.4" width="1.2" height="1.8"/><rect x="93.9" y="345.8" width="1.2" height="1.8"/><rect x="82.0" y="355.0" width="1.2" height="1.8"/><rect x="90.8" y="362.1" width="1.2" height="1.8"/><rect x="92.0" y="364.4" width="1.2" height="1.8"/><rect x="95.6" y="352.9" width="1.2" height="1.8"/><rect x="88.9" y="343.5" width="1.2" height="1.8"/><rect x="85.9" y="355.4" width="1.2" height="1.8"/><rect x="82.6" y="358.4" width="1.2" height="1.8"/><rect x="83.9" y="351.5" width="1.2" height="1.8"/><rect x="95.9" y="341.6" width="1.2" height="1.8"/><rect x="82.0" y="351.4" width="1.2" height="1.8"/><rect x="84.3" y="359.3" width="1.2" height="1.8"/><rect x="81.4" y="362.6" width="1.2" height="1.8"/><rect x="94.2" y="361.1" width="1.2" height="1.8"/><rect x="87.8" y="347.0" width="1.2" height="1.8"/><rect x="91.3" y="353.5" width="1.2" height="1.8"/><rect x="87.7" y="348.6" width="1.2" height="1.8"/><rect x="88.0" y="357.8" width="1.2" height="1.8"/><rect x="93.8" y="364.4" width="1.2" height="1.8"/><rect x="83.9" y="347.4" width="1.2" height="1.8"/><rect x="88.0" y="354.9" width="1.2" height="1.8"/><rect x="86.6" y="344.6" width="1.2" height="1.8"/><rect x="82.7" y="348.2" width="1.2" height="1.8"/><rect x="88.3" y="366.3" width="1.2" height="1.8"/><rect x="95.0" y="363.3" width="1.2" height="1.8"/><rect x="96.0" y="366.0" width="1.2" height="1.8"/><rect x="90.7" y="361.8" width="1.2" height="1.8"/><rect x="82.3" y="358.0" width="1.2" height="1.8"/><rect x="90.5" y="347.4" width="1.2" height="1.8"/><rect x="90.0" y="365.8" width="1.2" height="1.8"/><rect x="87.7" y="351.6" width="1.2" height="1.8"/><rect x="86.1" y="348.5" width="1.2" height="1.8"/><rect x="91.4" y="345.4" width="1.2" height="1.8"/><rect x="85.1" y="351.9" width="1.2" height="1.8"/><rect x="87.4" y="346.0" width="1.2" height="1.8"/><rect x="89.3" y="348.8" width="1.2" height="1.8"/><rect x="88.6" y="349.3" width="1.2" height="1.8"/><rect x="88.2" y="350.7" width="1.2" height="1.8"/><rect x="87.0" y="346.2" width="1.2" height="1.8"/><rect x="85.0" y="354.0" width="1.2" height="1.8"/><rect x="88.3" y="346.2" width="1.2" height="1.8"/><rect x="91.2" y="347.6" width="1.2" height="1.8"/><rect x="84.3" y="350.4" width="1.2" height="1.8"/><rect x="85.7" y="350.0" width="1.2" height="1.8"/><rect x="88.4" y="347.4" width="1.2" height="1.8"/><rect x="88.6" y="346.2" width="1.2" height="1.8"/><rect x="88.0" y="351.0" width="1.2" height="1.8"/><rect x="84.1" y="349.2" width="1.2" height="1.8"/><rect x="84.1" y="349.5" width="1.2" height="1.8"/><rect x="91.2" y="350.6" width="1.2" height="1.8"/><rect x="89.8" y="352.7" width="1.2" height="1.8"/><rect x="84.4" y="355.0" width="1.2" height="1.8"/><rect x="89.9" y="346.1" width="1.2" height="1.8"/><rect x="90.9" y="349.0" width="1.2" height="1.8"/><rect x="84.9" y="354.7" width="1.2" height="1.8"/><rect x="89.2" y="377.5" width="1.2" height="1.8"/><rect x="84.0" y="377.5" width="1.2" height="1.8"/><rect x="83.1" y="368.9" width="1.2" height="1.8"/><rect x="86.9" y="365.3" width="1.2" height="1.8"/><rect x="89.5" y="368.5" width="1.2" height="1.8"/><rect x="86.0" y="376.4" width="1.2" height="1.8"/><rect x="87.5" y="379.3" width="1.2" height="1.8"/><rect x="89.9" y="379.1" width="1.2" height="1.8"/><rect x="89.2" y="379.8" width="1.2" height="1.8"/><rect x="92.8" y="367.8" width="1.2" height="1.8"/><rect x="91.3" y="370.6" width="1.2" height="1.8"/><rect x="91.6" y="376.0" width="1.2" height="1.8"/><rect x="92.3" y="367.1" width="1.2" height="1.8"/><rect x="86.9" y="376.9" width="1.2" height="1.8"/><rect x="93.8" y="376.6" width="1.2" height="1.8"/><rect x="82.9" y="374.8" width="1.2" height="1.8"/><rect x="83.6" y="373.9" width="1.2" height="1.8"/><rect x="92.0" y="366.9" width="1.2" height="1.8"/><rect x="99.1" y="385.0" width="1.2" height="1.8"/><rect x="96.4" y="370.1" width="1.2" height="1.8"/><rect x="97.2" y="390.1" width="1.2" height="1.8"/><rect x="97.7" y="367.6" width="1.2" height="1.8"/><rect x="95.5" y="367.5" width="1.2" height="1.8"/><rect x="98.6" y="369.8" width="1.2" height="1.8"/><rect x="97.6" y="373.1" width="1.2" height="1.8"/><rect x="78.1" y="378.7" width="1.2" height="1.8"/><rect x="76.0" y="388.6" width="1.2" height="1.8"/><rect x="77.6" y="384.9" width="1.2" height="1.8"/><rect x="78.6" y="390.1" width="1.2" height="1.8"/><rect x="75.5" y="377.9" width="1.2" height="1.8"/><rect x="165.7" y="369.7" width="1.2" height="1.8"/><rect x="169.3" y="386.1" width="1.2" height="1.8"/><rect x="165.1" y="352.1" width="1.2" height="1.8"/><rect x="169.0" y="379.5" width="1.2" height="1.8"/><rect x="166.9" y="368.3" width="1.2" height="1.8"/><rect x="165.7" y="388.6" width="1.2" height="1.8"/><rect x="166.9" y="390.1" width="1.2" height="1.8"/><rect x="168.0" y="346.3" width="1.2" height="1.8"/><rect x="166.5" y="354.0" width="1.2" height="1.8"/><rect x="169.4" y="374.5" width="1.2" height="1.8"/><rect x="165.1" y="351.4" width="1.2" height="1.8"/><rect x="166.7" y="367.8" width="1.2" height="1.8"/><rect x="167.8" y="363.4" width="1.2" height="1.8"/><rect x="166.7" y="342.4" width="1.2" height="1.8"/><rect x="167.8" y="360.5" width="1.2" height="1.8"/><rect x="165.0" y="367.4" width="1.2" height="1.8"/><rect x="169.8" y="344.6" width="1.2" height="1.8"/><rect x="165.6" y="379.0" width="1.2" height="1.8"/><rect x="166.3" y="357.1" width="1.2" height="1.8"/><rect x="167.4" y="356.5" width="1.2" height="1.8"/><rect x="167.7" y="371.1" width="1.2" height="1.8"/><rect x="169.7" y="396.7" width="1.2" height="1.8"/><rect x="165.1" y="372.9" width="1.2" height="1.8"/><rect x="168.8" y="390.1" width="1.2" height="1.8"/><rect x="168.8" y="376.9" width="1.2" height="1.8"/><rect x="168.1" y="362.1" width="1.2" height="1.8"/><rect x="140.0" y="379.4" width="1.2" height="1.8"/><rect x="141.1" y="381.3" width="1.2" height="1.8"/><rect x="140.8" y="338.3" width="1.2" height="1.8"/><rect x="168.5" y="413.4" width="1.2" height="1.8"/><rect x="167.4" y="411.1" width="1.2" height="1.8"/><rect x="166.8" y="409.2" width="1.2" height="1.8"/><rect x="167.0" y="398.4" width="1.2" height="1.8"/><rect x="166.7" y="404.2" width="1.2" height="1.8"/><rect x="169.4" y="407.7" width="1.2" height="1.8"/><rect x="166.9" y="402.5" width="1.2" height="1.8"/><rect x="166.3" y="404.8" width="1.2" height="1.8"/><rect x="165.9" y="397.3" width="1.2" height="1.8"/><rect x="168.9" y="407.1" width="1.2" height="1.8"/></g>
<g fill="#3d8fe6"><rect x="57" y="399.5" width="3.2" height="9.3"/><rect x="65" y="398.5" width="3.2" height="10.5"/><rect x="73.9" y="399" width="10.0" height="10.0"/><rect x="98.8" y="401.6" width="67.7" height="6.8"/><rect x="170.8" y="401.6" width="65.2" height="6.2"/></g>
<g fill="#9a9a9a" opacity="0.8"><rect x="78.5" y="407.4" width="1.3" height="1.3"/><rect x="77.0" y="405.0" width="1.3" height="1.3"/><rect x="74.7" y="405.8" width="1.3" height="1.3"/><rect x="77.1" y="408.4" width="1.3" height="1.3"/><rect x="79.5" y="409.6" width="1.3" height="1.3"/><rect x="77.4" y="409.5" width="1.3" height="1.3"/><rect x="79.8" y="404.5" width="1.3" height="1.3"/><rect x="75.8" y="407.5" width="1.3" height="1.3"/><rect x="83.9" y="406.1" width="1.3" height="1.3"/><rect x="81.7" y="406.6" width="1.3" height="1.3"/><rect x="82.7" y="404.4" width="1.3" height="1.3"/><rect x="78.8" y="409.4" width="1.3" height="1.3"/><rect x="76.8" y="405.5" width="1.3" height="1.3"/><rect x="74.2" y="405.0" width="1.3" height="1.3"/></g>
<g fill="#e8363c"><rect x="59.4" y="355.6" width="6.5" height="6.2"/><rect x="67.8" y="355.8" width="4.2" height="6.0"/><rect x="72" y="357.2" width="2.9" height="5.6"/><rect x="83.1" y="358.9" width="8.9" height="6.8"/><rect x="92" y="355.3" width="6.2" height="7.1"/><rect x="165.3" y="358.6" width="6.0" height="6.8"/><rect x="70.5" y="330.4" width="1.1" height="5.6"/><rect x="98.5" y="324.7" width="1.1" height="6.0"/><rect x="178.9" y="358.3" width="1.1" height="5.0"/></g>
<g stroke="#111" stroke-width="2" fill="none"><path d="M49.5,334.1 H52 V428.5 H49.5"/></g>
<g stroke="#111" stroke-width="1.5" fill="none"><path d="M56.5,436.5 V432.5 H234.6 V436.5"/></g>
<g stroke="#111" stroke-width="1.3"><line x1="49.5" y1="404.5" x2="52" y2="404.5"/><line x1="49.5" y1="381.2" x2="52" y2="381.2"/><line x1="49.5" y1="357.8" x2="52" y2="357.8"/><line x1="100.7" y1="432.5" x2="100.7" y2="436"/><line x1="145.3" y1="432.5" x2="145.3" y2="436"/><line x1="189.9" y1="432.5" x2="189.9" y2="436"/></g>
<g font-family="Liberation Sans, sans-serif" font-size="7.6" fill="#222" letter-spacing="-0.45"><text x="48" y="429.6" text-anchor="end">0</text><text x="48" y="406.2" text-anchor="end">1</text><text x="48" y="382.9" text-anchor="end">2</text><text x="48" y="359.5" text-anchor="end">3</text><text x="48" y="336.2" text-anchor="end">4</text><text x="56.8" y="445" text-anchor="middle">0</text><text x="101.5" y="445" text-anchor="middle">22,750,000</text><text x="146.1" y="445" text-anchor="middle">45,500,000</text><text x="190.8" y="445" text-anchor="middle">68,250,000</text><text x="235.4" y="445" text-anchor="middle">91,000,000</text><text x="41.5" y="436.6">chr3</text><text x="238" y="436.5">(bp)</text></g>
<text x="123.8" y="316.8" font-family="Liberation Sans, sans-serif" font-size="7.7" fill="#222" textLength="52.8" lengthAdjust="spacingAndGlyphs">Chromothripsis</text>
<g stroke="#111" stroke-width="1.3" fill="none"><path d="M288.5,283 H290.5 V428.4 H288.5"/><path d="M295,440 V437 H482.5 V440"/><path d="M495.5,290 H491.8 V421.7 H495.5"/></g>
<g stroke="#111" stroke-width="1.1"><line x1="288.5" y1="428.4" x2="290.5" y2="428.4"/><line x1="288.5" y1="399.3" x2="290.5" y2="399.3"/><line x1="288.5" y1="370.2" x2="290.5" y2="370.2"/><line x1="288.5" y1="341.2" x2="290.5" y2="341.2"/><line x1="288.5" y1="312.1" x2="290.5" y2="312.1"/><line x1="288.5" y1="283.0" x2="290.5" y2="283.0"/><line x1="491.8" y1="421.7" x2="495.3" y2="421.7"/><line x1="491.8" y1="410.7" x2="495.3" y2="410.7"/><line x1="491.8" y1="399.8" x2="495.3" y2="399.8"/><line x1="491.8" y1="388.8" x2="495.3" y2="388.8"/><line x1="491.8" y1="377.8" x2="495.3" y2="377.8"/><line x1="491.8" y1="366.8" x2="495.3" y2="366.8"/><line x1="491.8" y1="355.9" x2="495.3" y2="355.9"/><line x1="491.8" y1="344.9" x2="495.3" y2="344.9"/><line x1="491.8" y1="333.9" x2="495.3" y2="333.9"/><line x1="491.8" y1="323.0" x2="495.3" y2="323.0"/><line x1="491.8" y1="312.0" x2="495.3" y2="312.0"/><line x1="491.8" y1="301.0" x2="495.3" y2="301.0"/><line x1="491.8" y1="290.1" x2="495.3" y2="290.1"/><line x1="295.0" y1="437" x2="295.0" y2="440"/><line x1="342.3" y1="437" x2="342.3" y2="440"/><line x1="389.6" y1="437" x2="389.6" y2="440"/><line x1="436.9" y1="437" x2="436.9" y2="440"/><line x1="484.2" y1="437" x2="484.2" y2="440"/></g>
<g font-family="Liberation Sans, sans-serif" font-size="8.2" fill="#111"><text x="286.3" y="431.4" text-anchor="end">0</text><text x="286.3" y="402.3" text-anchor="end">1</text><text x="286.3" y="373.2" text-anchor="end">2</text><text x="286.3" y="344.2" text-anchor="end">3</text><text x="286.3" y="315.1" text-anchor="end">4</text><text x="286.3" y="286.0" text-anchor="end">5</text><text x="498.3" y="424.7">0</text><text x="498.3" y="413.7">1</text><text x="498.3" y="402.8">2</text><text x="498.3" y="391.8">3</text><text x="498.3" y="380.8">4</text><text x="498.3" y="369.8">5</text><text x="498.3" y="358.9">6</text><text x="498.3" y="347.9">7</text><text x="498.3" y="336.9">8</text><text x="498.3" y="326.0">9</text><text x="498.3" y="315.0">10</text><text x="498.3" y="304.0">11</text><text x="498.3" y="293.1">12</text><text x="298.8" y="447.3" text-anchor="middle" font-size="8.6">20,000,000</text><text x="346.1" y="447.3" text-anchor="middle" font-size="8.6">22,000,000</text><text x="393.4" y="447.3" text-anchor="middle" font-size="8.6">24,000,000</text><text x="440.7" y="447.3" text-anchor="middle" font-size="8.6">26,000,000</text><text x="488.0" y="447.3" text-anchor="middle" font-size="8.6">28,000,000</text><text x="272.5" y="439">chr12</text><text x="488.7" y="439">(bp)</text><text x="491.6" y="282">CN</text></g>
<text transform="translate(276,356) rotate(-90)" font-family="Liberation Sans, sans-serif" font-size="7.4" fill="#111" text-anchor="middle">Total copy ratio</text>
<text x="353.2" y="305.2" font-family="Liberation Sans, sans-serif" font-size="8.3" fill="#b8567f">SOX5</text>
<text x="410.8" y="329.3" font-family="Liberation Sans, sans-serif" font-style="italic" font-size="9.9" fill="#cc509c">KRAS</text>
<g fill="#690e18"><circle cx="361.7" cy="327.5" r="1.75"/><circle cx="361.7" cy="333.0" r="1.75"/><circle cx="362.2" cy="335.2" r="1.75"/><circle cx="361.4" cy="338.5" r="1.75"/><circle cx="361.7" cy="340.2" r="1.75"/><circle cx="361.3" cy="343.1" r="1.75"/><circle cx="360.3" cy="347.7" r="1.75"/><circle cx="356.7" cy="349.6" r="1.75"/><circle cx="360.7" cy="351.8" r="1.75"/><circle cx="353.8" cy="353.0" r="1.75"/><circle cx="358.1" cy="354.7" r="1.75"/><circle cx="347.7" cy="358.7" r="1.75"/><circle cx="352.3" cy="359.7" r="1.75"/><circle cx="353.0" cy="364.8" r="1.75"/><circle cx="352.0" cy="366.2" r="1.75"/><circle cx="356.7" cy="368.4" r="1.75"/><circle cx="347.7" cy="374.6" r="1.75"/><circle cx="350.2" cy="374.2" r="1.75"/><circle cx="347.3" cy="378.5" r="1.75"/><circle cx="356.5" cy="366.5" r="1.75"/><circle cx="357.0" cy="365.1" r="1.75"/><circle cx="358.7" cy="357.4" r="1.75"/><circle cx="358.7" cy="367.9" r="1.75"/><circle cx="356.8" cy="355.3" r="1.75"/><circle cx="356.2" cy="367.7" r="1.75"/><circle cx="355.8" cy="366.9" r="1.75"/><circle cx="356.3" cy="364.6" r="1.75"/><circle cx="356.1" cy="357.2" r="1.75"/><circle cx="358.1" cy="356.2" r="1.75"/><circle cx="357.0" cy="366.9" r="1.75"/><circle cx="358.2" cy="366.5" r="1.75"/><circle cx="359.1" cy="355.4" r="1.75"/><circle cx="356.6" cy="365.3" r="1.75"/><circle cx="358.1" cy="355.5" r="1.75"/><circle cx="357.5" cy="358.0" r="1.75"/><circle cx="385.0" cy="282.2" r="1.75"/><circle cx="387.5" cy="290.3" r="1.75"/><circle cx="383.3" cy="293.2" r="1.75"/><circle cx="382.5" cy="299.0" r="1.75"/><circle cx="384.5" cy="301.0" r="1.75"/><circle cx="382.0" cy="302.0" r="1.75"/><circle cx="389.4" cy="307.2" r="1.75"/><circle cx="386.7" cy="313.5" r="1.75"/><circle cx="390.6" cy="314.7" r="1.75"/><circle cx="382.0" cy="321.3" r="1.75"/><circle cx="392.3" cy="324.3" r="1.75"/><circle cx="398.5" cy="336.7" r="1.75"/><circle cx="407.3" cy="336.7" r="1.75"/><circle cx="412.0" cy="355.2" r="1.75"/><circle cx="419.6" cy="352.5" r="1.75"/><circle cx="418.6" cy="357.4" r="1.75"/><circle cx="412.3" cy="356.3" r="1.75"/><circle cx="418.3" cy="357.4" r="1.75"/><circle cx="418.6" cy="357.8" r="1.75"/><circle cx="419.3" cy="347.8" r="1.75"/><circle cx="420.7" cy="348.9" r="1.75"/><circle cx="415.4" cy="360.5" r="1.75"/><circle cx="420.4" cy="355.3" r="1.75"/><circle cx="411.7" cy="355.9" r="1.75"/><circle cx="419.8" cy="351.0" r="1.75"/><circle cx="410.8" cy="348.8" r="1.75"/><circle cx="420.7" cy="349.7" r="1.75"/><circle cx="412.1" cy="357.3" r="1.75"/><circle cx="419.6" cy="350.6" r="1.75"/><circle cx="413.5" cy="358.3" r="1.75"/><circle cx="419.0" cy="350.6" r="1.75"/><circle cx="415.2" cy="359.5" r="1.75"/><circle cx="416.1" cy="360.4" r="1.75"/><circle cx="418.5" cy="342.7" r="1.75"/><circle cx="419.7" cy="353.4" r="1.75"/><circle cx="412.7" cy="344.5" r="1.75"/><circle cx="421.0" cy="350.0" r="1.75"/><circle cx="417.6" cy="344.7" r="1.75"/><circle cx="420.2" cy="352.3" r="1.75"/><circle cx="411.8" cy="342.3" r="1.75"/><circle cx="418.5" cy="342.0" r="1.75"/><circle cx="412.0" cy="347.0" r="1.75"/><circle cx="420.0" cy="346.0" r="1.75"/><circle cx="429.5" cy="333.5" r="1.75"/><circle cx="407.0" cy="337.3" r="1.75"/><circle cx="429.5" cy="340.8" r="1.75"/><circle cx="430.0" cy="345.0" r="1.75"/><circle cx="428.5" cy="352.8" r="1.75"/><circle cx="412.7" cy="363.7" r="1.75"/><circle cx="419.4" cy="363.7" r="1.75"/><circle cx="451.8" cy="344.1" r="1.75"/><circle cx="450.8" cy="344.1" r="1.75"/><circle cx="445.2" cy="347.1" r="1.75"/><circle cx="450.1" cy="344.8" r="1.75"/><circle cx="447.7" cy="344.4" r="1.75"/><circle cx="453.2" cy="353.4" r="1.75"/><circle cx="451.0" cy="356.7" r="1.75"/><circle cx="444.1" cy="349.1" r="1.75"/><circle cx="446.4" cy="347.4" r="1.75"/><circle cx="452.5" cy="350.2" r="1.75"/><circle cx="457.5" cy="345.8" r="1.75"/><circle cx="445.9" cy="347.3" r="1.75"/><circle cx="453.4" cy="345.3" r="1.75"/><circle cx="456.4" cy="354.6" r="1.75"/><circle cx="445.1" cy="349.4" r="1.75"/><circle cx="457.0" cy="340.5" r="1.75"/><circle cx="453.0" cy="347.1" r="1.75"/><circle cx="445.1" cy="353.1" r="1.75"/><circle cx="453.1" cy="346.1" r="1.75"/><circle cx="454.2" cy="350.5" r="1.75"/><circle cx="455.7" cy="350.3" r="1.75"/><circle cx="454.0" cy="343.4" r="1.75"/><circle cx="449.9" cy="348.5" r="1.75"/><circle cx="438.5" cy="356.3" r="1.75"/><circle cx="450.2" cy="343.9" r="1.75"/><circle cx="443.1" cy="349.0" r="1.75"/><circle cx="452.2" cy="345.7" r="1.75"/><circle cx="450.0" cy="344.5" r="1.75"/><circle cx="448.3" cy="347.6" r="1.75"/><circle cx="448.9" cy="350.6" r="1.75"/><circle cx="451.3" cy="348.5" r="1.75"/><circle cx="454.0" cy="353.0" r="1.75"/><circle cx="454.9" cy="348.9" r="1.75"/><circle cx="451.2" cy="344.9" r="1.75"/><circle cx="450.3" cy="350.7" r="1.75"/><circle cx="453.1" cy="346.5" r="1.75"/><circle cx="445.5" cy="342.0" r="1.75"/><circle cx="453.6" cy="352.0" r="1.75"/><circle cx="453.8" cy="342.6" r="1.75"/><circle cx="451.0" cy="348.9" r="1.75"/><circle cx="447.5" cy="349.4" r="1.75"/><circle cx="451.0" cy="344.7" r="1.75"/><circle cx="445.9" cy="351.2" r="1.75"/><circle cx="453.7" cy="344.5" r="1.75"/><circle cx="447.1" cy="351.5" r="1.75"/><circle cx="454.9" cy="346.8" r="1.75"/><circle cx="459.8" cy="346.9" r="1.75"/><circle cx="446.9" cy="352.3" r="1.75"/><circle cx="451.1" cy="349.3" r="1.75"/><circle cx="452.2" cy="344.1" r="1.75"/><circle cx="446.2" cy="347.2" r="1.75"/><circle cx="458.8" cy="344.1" r="1.75"/><circle cx="458.6" cy="348.9" r="1.75"/><circle cx="446.6" cy="349.0" r="1.75"/><circle cx="454.8" cy="344.5" r="1.75"/><circle cx="462.7" cy="358.0" r="1.75"/><circle cx="462.4" cy="350.8" r="1.75"/><circle cx="463.1" cy="356.8" r="1.75"/><circle cx="464.7" cy="355.3" r="1.75"/><circle cx="462.0" cy="342.7" r="1.75"/><circle cx="464.8" cy="352.0" r="1.75"/><circle cx="465.7" cy="355.9" r="1.75"/><circle cx="459.2" cy="346.0" r="1.75"/><circle cx="458.8" cy="356.7" r="1.75"/><circle cx="459.0" cy="343.6" r="1.75"/><circle cx="465.5" cy="352.2" r="1.75"/><circle cx="458.6" cy="354.3" r="1.75"/><circle cx="465.1" cy="350.7" r="1.75"/><circle cx="458.5" cy="354.4" r="1.75"/><circle cx="462.2" cy="352.5" r="1.75"/><circle cx="468.0" cy="356.7" r="1.75"/><circle cx="466.7" cy="344.6" r="1.75"/><circle cx="461.3" cy="351.3" r="1.75"/><circle cx="458.1" cy="359.8" r="1.75"/><circle cx="460.7" cy="346.7" r="1.75"/><circle cx="471.3" cy="339.6" r="1.75"/><circle cx="473.4" cy="346.2" r="1.75"/><circle cx="472.0" cy="343.2" r="1.75"/><circle cx="470.2" cy="340.7" r="1.75"/><circle cx="473.5" cy="351.6" r="1.75"/><circle cx="473.4" cy="339.7" r="1.75"/><circle cx="470.8" cy="335.1" r="1.75"/><circle cx="472.1" cy="342.2" r="1.75"/><circle cx="471.9" cy="344.8" r="1.75"/><circle cx="472.3" cy="342.0" r="1.75"/><circle cx="473.2" cy="338.4" r="1.75"/><circle cx="473.7" cy="346.2" r="1.75"/><circle cx="470.2" cy="340.9" r="1.75"/><circle cx="472.1" cy="343.0" r="1.75"/><circle cx="480.8" cy="341.1" r="1.75"/><circle cx="479.6" cy="351.5" r="1.75"/><circle cx="479.7" cy="349.6" r="1.75"/><circle cx="481.7" cy="347.0" r="1.75"/><circle cx="480.3" cy="354.6" r="1.75"/><circle cx="480.3" cy="353.3" r="1.75"/><circle cx="478.7" cy="343.5" r="1.75"/><circle cx="481.1" cy="335.1" r="1.75"/><circle cx="482.0" cy="335.6" r="1.75"/><circle cx="480.9" cy="338.0" r="1.75"/><circle cx="482.2" cy="346.3" r="1.75"/><circle cx="481.7" cy="345.0" r="1.75"/><circle cx="481.2" cy="348.8" r="1.75"/><circle cx="479.7" cy="338.6" r="1.75"/><circle cx="477.9" cy="337.4" r="1.75"/><circle cx="473.4" cy="337.8" r="1.75"/><circle cx="472.7" cy="337.4" r="1.75"/><circle cx="478.7" cy="337.0" r="1.75"/><circle cx="474.9" cy="335.6" r="1.75"/><circle cx="478.3" cy="335.4" r="1.75"/><circle cx="476.8" cy="347.2" r="1.75"/><circle cx="476.9" cy="347.3" r="1.75"/><circle cx="472.3" cy="347.4" r="1.75"/><circle cx="473.6" cy="346.3" r="1.75"/><circle cx="476.1" cy="346.5" r="1.75"/><circle cx="450.5" cy="333.7" r="1.75"/><circle cx="462.5" cy="336.5" r="1.75"/><circle cx="443.3" cy="340.4" r="1.75"/><circle cx="479.3" cy="326.4" r="1.75"/><circle cx="479.3" cy="332.2" r="1.75"/><circle cx="442.3" cy="359.1" r="1.75"/><circle cx="463.0" cy="361.5" r="1.75"/><circle cx="467.3" cy="364.4" r="1.75"/></g>
<g fill="#3b8de8"><circle cx="319.7" cy="409.1" r="1.75"/><circle cx="324.3" cy="408.4" r="1.75"/><circle cx="317.4" cy="407.0" r="1.75"/><circle cx="332.9" cy="407.6" r="1.75"/><circle cx="317.3" cy="409.0" r="1.75"/><circle cx="331.2" cy="405.6" r="1.75"/><circle cx="313.2" cy="410.5" r="1.75"/><circle cx="322.3" cy="406.5" r="1.75"/><circle cx="315.2" cy="410.1" r="1.75"/><circle cx="340.7" cy="411.1" r="1.75"/><circle cx="332.6" cy="410.3" r="1.75"/><circle cx="321.8" cy="408.9" r="1.75"/><circle cx="336.4" cy="408.5" r="1.75"/><circle cx="333.9" cy="408.2" r="1.75"/><circle cx="322.2" cy="410.9" r="1.75"/><circle cx="312.1" cy="409.9" r="1.75"/><circle cx="332.1" cy="408.5" r="1.75"/><circle cx="331.1" cy="410.9" r="1.75"/><circle cx="319.4" cy="409.2" r="1.75"/><circle cx="342.4" cy="409.5" r="1.75"/><circle cx="330.0" cy="409.9" r="1.75"/><circle cx="331.7" cy="409.4" r="1.75"/><circle cx="335.5" cy="409.1" r="1.75"/><circle cx="315.9" cy="410.0" r="1.75"/><circle cx="315.4" cy="409.5" r="1.75"/><circle cx="338.6" cy="408.8" r="1.75"/><circle cx="325.1" cy="407.5" r="1.75"/><circle cx="329.6" cy="408.9" r="1.75"/><circle cx="333.2" cy="408.3" r="1.75"/><circle cx="336.1" cy="408.6" r="1.75"/><circle cx="319.4" cy="408.8" r="1.75"/><circle cx="337.3" cy="406.9" r="1.75"/><circle cx="321.2" cy="410.0" r="1.75"/><circle cx="326.1" cy="405.3" r="1.75"/><circle cx="320.1" cy="405.9" r="1.75"/><circle cx="315.0" cy="408.9" r="1.75"/><circle cx="310.8" cy="407.2" r="1.75"/><circle cx="337.2" cy="409.7" r="1.75"/><circle cx="323.0" cy="410.5" r="1.75"/><circle cx="336.6" cy="409.3" r="1.75"/><circle cx="313.6" cy="410.2" r="1.75"/><circle cx="312.6" cy="409.5" r="1.75"/><circle cx="327.8" cy="408.5" r="1.75"/><circle cx="342.9" cy="409.1" r="1.75"/><circle cx="323.1" cy="410.0" r="1.75"/><circle cx="336.0" cy="410.2" r="1.75"/><circle cx="342.3" cy="409.6" r="1.75"/><circle cx="337.3" cy="409.7" r="1.75"/><circle cx="318.9" cy="411.2" r="1.75"/><circle cx="332.4" cy="409.2" r="1.75"/><circle cx="322.4" cy="409.9" r="1.75"/><circle cx="321.7" cy="407.8" r="1.75"/><circle cx="341.7" cy="411.3" r="1.75"/><circle cx="312.8" cy="410.9" r="1.75"/><circle cx="332.8" cy="407.0" r="1.75"/><circle cx="312.6" cy="411.1" r="1.75"/><circle cx="330.0" cy="406.6" r="1.75"/><circle cx="343.1" cy="411.2" r="1.75"/><circle cx="332.1" cy="409.6" r="1.75"/><circle cx="319.6" cy="410.5" r="1.75"/><circle cx="325.5" cy="409.5" r="1.75"/><circle cx="336.7" cy="410.4" r="1.75"/><circle cx="332.7" cy="408.0" r="1.75"/><circle cx="318.0" cy="414.0" r="1.75"/><circle cx="330.1" cy="411.1" r="1.75"/><circle cx="340.5" cy="411.9" r="1.75"/><circle cx="319.7" cy="409.4" r="1.75"/><circle cx="320.2" cy="406.6" r="1.75"/><circle cx="321.9" cy="406.3" r="1.75"/><circle cx="316.1" cy="409.7" r="1.75"/><circle cx="307.2" cy="410.4" r="1.75"/><circle cx="337.0" cy="404.5" r="1.75"/><circle cx="344.0" cy="403.0" r="1.75"/><circle cx="343.5" cy="406.0" r="1.75"/><circle cx="334.0" cy="414.5" r="1.75"/><circle cx="324.0" cy="412.8" r="1.75"/><circle cx="345.0" cy="412.0" r="1.75"/><circle cx="341.0" cy="413.0" r="1.75"/><circle cx="482.2" cy="406.8" r="1.75"/><circle cx="482.2" cy="408.3" r="1.75"/><circle cx="482.1" cy="410.0" r="1.75"/><circle cx="482.2" cy="411.8" r="1.75"/><circle cx="482.4" cy="413.5" r="1.75"/></g>
<g fill="#e8409a"><path d="M421.7,340.2 l2.6,2.6 l-2.6,2.6 l-2.6,-2.6z"/><path d="M421.9,343.9 l2.6,2.6 l-2.6,2.6 l-2.6,-2.6z"/><path d="M421.7,347.9 l2.6,2.6 l-2.6,2.6 l-2.6,-2.6z"/><path d="M420.5,352.4 l2.6,2.6 l-2.6,2.6 l-2.6,-2.6z"/><path d="M421.5,356.9 l2.6,2.6 l-2.6,2.6 l-2.6,-2.6z"/><path d="M418.8,345.9 l2.6,2.6 l-2.6,2.6 l-2.6,-2.6z"/></g>
</svg></body></html>
